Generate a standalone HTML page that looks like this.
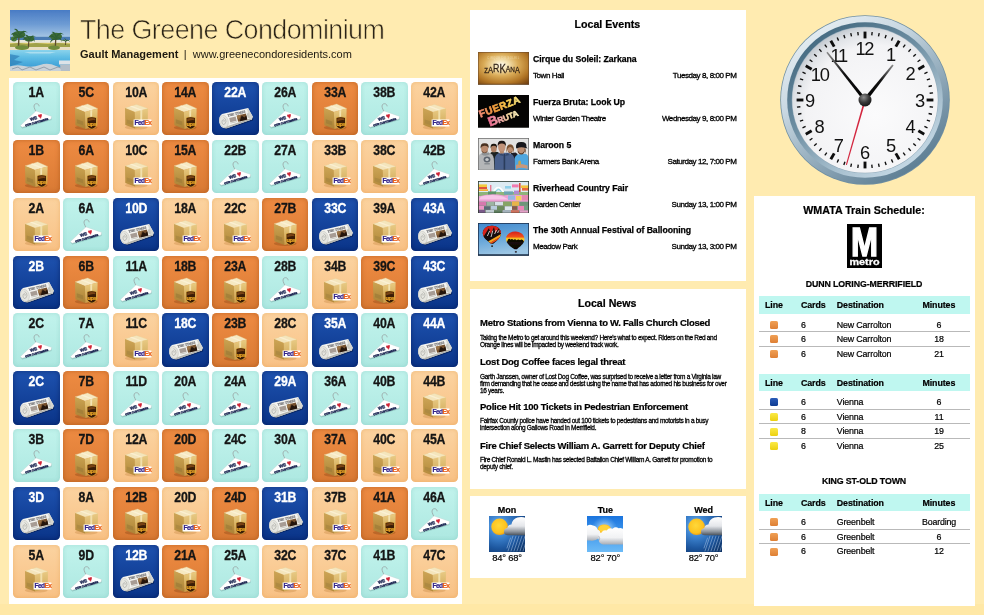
<!DOCTYPE html>
<html lang="en"><head><meta charset="utf-8"><title>The Greene Condominium</title>
<style>
html,body{margin:0;padding:0}
body{width:984px;height:615px;overflow:hidden;position:relative;background:#FFEBB0;font-family:"Liberation Sans",Arial,Helvetica,sans-serif;color:#111}
#root{position:absolute;left:0;top:0;width:984px;height:615px;will-change:transform}
.abs{position:absolute}
.footer{position:absolute;left:0;top:604px;width:984px;height:11px;background:#FFE8A6}
.photo{position:absolute;left:10px;top:10px;width:60px;height:60.7px;overflow:hidden}.photo svg{display:block}
h1{position:absolute;left:79.6px;top:14.3px;margin:0;font-weight:normal;font-size:28.4px;line-height:31px;letter-spacing:-0.6px;color:#2b2316;white-space:nowrap;transform:scaleX(0.947);transform-origin:0 0;-webkit-text-stroke:0.7px #FFEBB0}
.sub{position:absolute;left:80px;top:47.5px;font-size:11px;line-height:13px;white-space:nowrap;color:#1c1810}
.sub b{margin-right:2.3px}.sub i{font-style:normal;margin-right:3.2px}
.gridpanel{position:absolute;left:9px;top:78px;width:453px;height:526px;background:#fff}
.tile{position:absolute;width:46.5px;height:53.3px;border-radius:4.5px;text-align:center;overflow:hidden}
.tile span{position:absolute;left:0;right:0;top:3px;font-weight:bold;font-size:13.8px;line-height:15px;color:#151515;letter-spacing:-0.2px;transform:scaleX(0.89);-webkit-text-stroke:0.3px #151515}
.tile svg{position:absolute;left:0;top:0;width:46.3px;height:53px}
.t{background:linear-gradient(#C1F3EC,#ADE8E1);box-shadow:inset 0 0 4px rgba(60,150,140,.22)}
.o{background:linear-gradient(#EE8B42,#D97A34);box-shadow:inset 0 0 5px rgba(140,60,0,.45)}
.l{background:linear-gradient(#FBD3A0,#F8C185);box-shadow:inset 0 0 4px rgba(220,140,50,.35)}
.b{background:linear-gradient(#1E52AF,#0A3488);box-shadow:inset 0 0 5px rgba(0,15,70,.5)}
.b span{color:#fff;-webkit-text-stroke-color:#fff}
.panel{position:absolute;background:#fff}
.ptitle{position:absolute;left:0;right:0;text-align:center;font-weight:bold;font-size:10.65px;line-height:12px;color:#000;-webkit-text-stroke:0.22px #000}
.ev{position:absolute;left:7.5px;width:259px;height:33px}
.ev .th{position:absolute;left:0;top:0;width:51px;height:32.5px;overflow:hidden;background:#888}
.ev .th svg{display:block;width:51px;height:32.5px}
.ev b{position:absolute;left:55.5px;top:2px;font-size:8.7px;line-height:11px;white-space:nowrap;letter-spacing:-0.05px;-webkit-text-stroke:0.25px #000;color:#000}
.ev .pl{position:absolute;left:55.5px;top:18.9px;font-size:8px;line-height:10px;white-space:nowrap;letter-spacing:-0.42px;-webkit-text-stroke:0.3px #000;color:#000}
.ev .dt{position:absolute;right:0;top:18.9px;font-size:8px;line-height:10px;white-space:nowrap;letter-spacing:-0.42px;-webkit-text-stroke:0.3px #000;color:#000}
.nw h3{position:absolute;left:10px;margin:0;font-size:9.5px;line-height:11px;font-weight:bold;white-space:nowrap;letter-spacing:-0.25px;-webkit-text-stroke:0.2px #000;color:#000}
.nw p{position:absolute;left:10px;margin:0;font-size:6.5px;line-height:7px;white-space:nowrap;letter-spacing:-0.31px;-webkit-text-stroke:0.28px #000;color:#000}
.wx{position:absolute;width:60px;text-align:center}
.wx b{position:absolute;left:0;right:0;top:0;font-size:9px;line-height:10px;color:#000;-webkit-text-stroke:0.2px #000}
.wx svg{position:absolute;left:12px;top:10.5px;width:36px;height:36px}
.wx span{position:absolute;left:0;right:0;top:47.8px;font-size:9.4px;line-height:10px;letter-spacing:-0.2px;-webkit-text-stroke:0.2px #000;color:#000}
.tr .st{position:absolute;left:0;right:0;text-align:center;font-weight:bold;font-size:8.8px;line-height:10px;letter-spacing:-0.1px;color:#000;-webkit-text-stroke:0.2px #000}
.tr .hd{position:absolute;left:5px;width:211px;height:17.5px;background:#BFF7F0}
.tr .hd b,.tr .rw span{position:absolute;font-size:8.85px;line-height:10px;white-space:nowrap}
.tr .hd b{top:4px;letter-spacing:-0.1px;color:#000;-webkit-text-stroke:0.2px #000}
.tr .rw{position:absolute;left:5px;width:211px;height:14.5px}
.tr .rw.ln{border-bottom:1px solid #b9b9b9;height:13.6px}
.tr .rw span{top:2.2px;letter-spacing:-0.15px;-webkit-text-stroke:0.2px #000;color:#000}
.tr .c1{left:6.5px}.tr .c2{left:42.5px}.tr .c3{left:78.3px}.tr .c4{left:148px;width:65px;text-align:center}
.tr .hd .c4{left:164px;width:auto;text-align:left}
.tr .rw i{position:absolute;left:11px;top:3.4px;width:8.5px;height:8px;border-radius:1.6px}
.sq-o{background:linear-gradient(#F0A055,#DE8035)}
.sq-b{background:linear-gradient(#2A5CB8,#0F3C92)}
.sq-y{background:linear-gradient(#FBEA45,#ECD010)}
.metro{position:absolute;left:93.5px;top:28px;width:35px;height:44px;background:#000}

</style></head>
<body>
<div id="root">
<svg id="icondefs" width="0" height="0" style="position:absolute"><defs><linearGradient id="uL" x1="0" y1="0" x2="0" y2="1"><stop offset="0" stop-color="#CBA452"/><stop offset="1" stop-color="#AC8236"/></linearGradient><linearGradient id="uR" x1="0" y1="0" x2="0" y2="1"><stop offset="0" stop-color="#EACC82"/><stop offset="1" stop-color="#C89E4A"/></linearGradient><linearGradient id="fL" x1="0" y1="0" x2="0" y2="1"><stop offset="0" stop-color="#CDA556"/><stop offset="1" stop-color="#B48A3C"/></linearGradient><linearGradient id="fR" x1="0" y1="0" x2="0" y2="1"><stop offset="0" stop-color="#E8CA84"/><stop offset="1" stop-color="#CFA655"/></linearGradient></defs></svg>
<div class="footer"></div>
<div class="photo"><svg width="60" height="61" viewBox="0 0 60 61"><defs><linearGradient id="pSky" x1="0" y1="0" x2="0" y2="1"><stop offset="0" stop-color="#4477C2"/><stop offset="0.55" stop-color="#6E9CD4"/><stop offset="1" stop-color="#A9C8E4"/></linearGradient><linearGradient id="pPool" x1="0" y1="0" x2="0" y2="1"><stop offset="0" stop-color="#8AD3EC"/><stop offset="0.45" stop-color="#5DBCE4"/><stop offset="1" stop-color="#3F9FD6"/></linearGradient><filter id="pB" x="-5%" y="-5%" width="110%" height="110%"><feGaussianBlur stdDeviation="0.45"/></filter></defs><rect width="60" height="61" fill="#5FA8D8"/><g filter="url(#pB)"><rect x="-2" y="-2" width="64" height="30" fill="url(#pSky)"/><rect x="-2" y="26.8" width="64" height="3.4" fill="#4C7CB4"/><rect x="-2" y="30" width="64" height="3.2" fill="#E9E7DC"/><rect x="-2" y="32.8" width="64" height="4.2" fill="#DCCB6E"/><path d="M0 34L8 33L16 34L26 33L38 34L48 33L60 34V38H0Z" fill="#9FA04A"/><rect x="-2" y="37" width="64" height="3.6" fill="#E9DEC2"/><path d="M-2 40H62V57H-2Z" fill="url(#pPool)"/><path d="M-1 44L10 46L4 50L13 52L2 56L-1 56Z" fill="#2E7FB8" opacity="0.7"/><path d="M14 42H46L40 43.5H20Z" fill="#BFE6F2" opacity="0.7"/><path d="M-2 57Q6 54 14 56T30 55T46 56T62 54V63H-2Z" fill="#C9D1D8"/><path d="M2 59L8 57L12 60L20 57L26 60L34 57L40 60L48 57L56 60" fill="none" stroke="#8E9AA6" stroke-width="0.9"/><rect x="49" y="50.5" width="12" height="4" fill="#DDE3E8"/><path d="M50 54.5H61V61H51Z" fill="#B4BEC8"/><g fill="#2F5F34"><ellipse cx="9" cy="24.6" rx="6.4" ry="3.6" fill="#3B6B36"/><ellipse cx="19.4" cy="28.8" rx="5" ry="2.8" fill="#3B6B36"/><ellipse cx="46" cy="26.4" rx="6" ry="3.6" fill="#3B6B36"/><ellipse cx="4" cy="29" rx="3" ry="2.4" fill="#47763A"/><path d="M7.6 38L8.4 26L9.6 26L9.2 38Z" fill="#5B4A2E"/><path d="M9 26Q3 20 1 25Q5 23 8.6 27Q4 26 2 31Q6 27 9 28Q12 24 16 30Q14 24 10 25.6Q14 20 18 23Q13 18 9.4 24Q8 18 4 19Q8 21 9 26Z"/><path d="M17.6 38L18.4 30L19.4 30L19 38Z" fill="#5B4A2E"/><path d="M19 30Q14 26 12.6 30Q16 28 18.8 31Q22 27 25 32Q24 27 20 29.4Q23 25 26 27Q22 23.4 19.4 28Q18 24 15 25Q18 26.6 19 30Z"/><path d="M44.6 38L45.2 28L46.4 28L46 38Z" fill="#5B4A2E"/><path d="M45.6 28Q40 22 38.4 28Q42 25 45.2 29Q41 28 40 33Q43 29 45.8 30Q49 26 52 32Q51 26 47 27.6Q50 22 54 25Q49.6 20 46.2 26Q45 21 41.6 22Q45 23.6 45.6 28Z"/><path d="M55 35L55.4 31L56.2 31L56 35Z" fill="#5B4A2E"/><path d="M55.8 31Q53 28.6 52 31Q54 30 55.6 32Q58 29.6 60 32Q59 29 56.4 30Q56 28 54 28.6Q55.6 29.4 55.8 31Z"/><ellipse cx="12" cy="37.6" rx="7" ry="2.4" fill="#6F8B3A"/><ellipse cx="44" cy="37.8" rx="6" ry="2.2" fill="#6F8B3A"/></g></g></svg></div>
<h1>The Greene Condominium</h1>
<div class="sub"><b>Gault Management</b> <i>|</i> www.greenecondoresidents.com</div>
<div class="gridpanel">
<div class="tile t" style="left:4.00px;top:3.90px"><span>1A</span><svg viewBox="0 0 46.3 53"><path d="M22.7 29.1C21.7 26.8 20.2 24.4 21.5 22.6C22.9 21.1 25.9 21.4 26.1 23.9" fill="none" stroke="#98A2A2" stroke-width="0.8" stroke-linecap="round"/><g transform="translate(0 -0.6)"><path d="M23 30.5L39 36L38.4 38.7L9.3 47L7.6 45Z" fill="#6FAAA4" opacity="0.5"/><path d="M23 29.5L38.6 35L38.1 37.6L9 45.9L7.5 44.1Z" fill="#fff" stroke="#C4D2D2" stroke-width="0.35"/><g transform="rotate(-16 23 38)" font-family="Liberation Sans, Arial, sans-serif" font-weight="bold" fill="#16224F" stroke="#16224F"><text x="17.4" y="38" font-size="4.4" stroke-width="0.3" letter-spacing="-0.2">WE</text><text x="25.8" y="38.5" font-size="7.4" fill="#CF2436" stroke="#CF2436" stroke-width="0.3">♥</text><text x="11" y="41.9" font-size="2.7" stroke-width="0.35" textLength="24" lengthAdjust="spacingAndGlyphs">OUR CUSTOMERS</text></g></g></svg>
</div>
<div class="tile o" style="left:53.75px;top:3.90px"><span>5C</span><svg viewBox="0 0 46.3 53"><ellipse cx="23.2" cy="45.6" rx="11.4" ry="2.4" fill="#6A3208" opacity="0.28"/><path d="M12 25.9L24.6 22L34.6 26.4L21.9 29.9Z" fill="#F6E9C2" stroke="#E8D6A0" stroke-width="0.3"/><path d="M12 25.9L21.9 29.9L22.4 47L12.4 43.2Z" fill="url(#uL)"/><path d="M21.9 29.9L34.6 26.4L34.3 43.6L22.4 47Z" fill="url(#uR)"/><path d="M27.3 28.4L29.2 27.9L29.1 35L27.3 35.4Z" fill="#F3E3B2"/><path d="M17.4 23.9L19.4 23.4L29.6 27.6L27.4 28.3Z" fill="#FBF3DA" opacity="0.8"/><path d="M13.8 37.3L20.2 39.6L20.3 43.6L13.9 41.3Z" fill="#9F7C38" opacity="0.75"/><path d="M24 35.4Q28.8 33.9 33.6 35.4L33.6 43.5Q33.3 45.9 28.8 47.5Q24.3 45.9 24 43.5Z" fill="#D9A23A"/><path d="M24.6 36Q28.8 34.7 33 36L33 43.4Q32.7 45.4 28.8 46.8Q24.9 45.4 24.6 43.4Z" fill="#3A1C06"/><path d="M25.2 36.5Q28.8 35.5 32.4 36.5L32.4 38.2Q28.6 37.4 25.2 39.6Z" fill="#7A4414"/><text x="28.8" y="43.6" text-anchor="middle" font-family="Liberation Sans, Arial, sans-serif" font-weight="bold" font-size="5.6" fill="#F0AA28" stroke="#F0AA28" stroke-width="0.25" letter-spacing="-0.45">ups</text></svg>
</div>
<div class="tile l" style="left:103.50px;top:3.90px"><span>10A</span><svg viewBox="0 0 46.3 53"><ellipse cx="23.2" cy="45.4" rx="11.4" ry="2.2" fill="#B06A20" opacity="0.25"/><path d="M12 25.9L23.5 22.4L35 26.6L21.9 29.9Z" fill="#F4E5BC" stroke="#E6D29A" stroke-width="0.3"/><path d="M12 25.9L21.9 29.9L22 46.6L12.3 43.1Z" fill="url(#fL)"/><path d="M21.9 29.9L35 26.6L34.7 43.2L22 46.6Z" fill="url(#fR)"/><path d="M27.3 28.5L29.3 28L29.2 38L27.3 38Z" fill="#F1DFAC"/><path d="M16.8 24.4L18.8 23.8L29.8 27.9L27.6 28.5Z" fill="#FBF1D6" opacity="0.8"/><path d="M13.8 37.5L20.2 39.6L20.3 43.4L13.9 41.2Z" fill="#A88640" opacity="0.7"/><rect x="20.6" y="37.5" width="17.8" height="7" fill="#fff"/><text x="21.6" y="43.4" font-family="Liberation Sans, Arial, sans-serif" font-weight="bold" font-size="6.6" letter-spacing="-0.6" fill="#33248A" stroke="#33248A" stroke-width="0.25">Fed<tspan fill="#EA621A" stroke="#EA621A">Ex</tspan></text></svg>
</div>
<div class="tile o" style="left:153.25px;top:3.90px"><span>14A</span><svg viewBox="0 0 46.3 53"><ellipse cx="23.2" cy="45.6" rx="11.4" ry="2.4" fill="#6A3208" opacity="0.28"/><path d="M12 25.9L24.6 22L34.6 26.4L21.9 29.9Z" fill="#F6E9C2" stroke="#E8D6A0" stroke-width="0.3"/><path d="M12 25.9L21.9 29.9L22.4 47L12.4 43.2Z" fill="url(#uL)"/><path d="M21.9 29.9L34.6 26.4L34.3 43.6L22.4 47Z" fill="url(#uR)"/><path d="M27.3 28.4L29.2 27.9L29.1 35L27.3 35.4Z" fill="#F3E3B2"/><path d="M17.4 23.9L19.4 23.4L29.6 27.6L27.4 28.3Z" fill="#FBF3DA" opacity="0.8"/><path d="M13.8 37.3L20.2 39.6L20.3 43.6L13.9 41.3Z" fill="#9F7C38" opacity="0.75"/><path d="M24 35.4Q28.8 33.9 33.6 35.4L33.6 43.5Q33.3 45.9 28.8 47.5Q24.3 45.9 24 43.5Z" fill="#D9A23A"/><path d="M24.6 36Q28.8 34.7 33 36L33 43.4Q32.7 45.4 28.8 46.8Q24.9 45.4 24.6 43.4Z" fill="#3A1C06"/><path d="M25.2 36.5Q28.8 35.5 32.4 36.5L32.4 38.2Q28.6 37.4 25.2 39.6Z" fill="#7A4414"/><text x="28.8" y="43.6" text-anchor="middle" font-family="Liberation Sans, Arial, sans-serif" font-weight="bold" font-size="5.6" fill="#F0AA28" stroke="#F0AA28" stroke-width="0.25" letter-spacing="-0.45">ups</text></svg>
</div>
<div class="tile b" style="left:203.00px;top:3.90px"><span>22A</span><svg viewBox="0 0 46.3 53"><path d="M14 47.6L41 38.6L41.4 36L12 46Z" fill="#031238" opacity="0.5"/><path d="M10 32L36 25.9L40.7 34.5L39.8 37.6L15 46.2Q9 47.2 7.3 40.4Q6.4 34.4 10 32Z" fill="#F4F4F0"/><path d="M15 46.2L39.8 37.6L40.7 34.5L40 34.2L38.6 36.2L15.2 44.2Q11.5 45 9.6 42.6Q11 46.9 15 46.2Z" fill="#B5B5AE"/><path d="M36 25.9L40.7 34.5L39.8 37.6L37 36.6L35.2 27.2Z" fill="#D6D6D0"/><ellipse cx="11.9" cy="39.4" rx="4.3" ry="6.2" transform="rotate(-14 11.9 39.4)" fill="#E6E6E0" stroke="#C4C4BC" stroke-width="0.5"/><path d="M11.6 35.6Q14.3 36.6 14 39.6Q13.4 42.6 11.2 42.6Q9.6 41.4 10 39Q10.6 37.4 11.8 37.8Q12.6 38.6 12 39.8" fill="none" stroke="#9E9E98" stroke-width="0.55"/><g transform="rotate(-13.5 24 36)"><text x="16.2" y="32.9" font-family="Liberation Serif, Times, serif" font-weight="bold" font-size="3.6" fill="#6C6C70" stroke="#6C6C70" stroke-width="0.15" textLength="18.5" lengthAdjust="spacingAndGlyphs">THE TIMES</text><rect x="17.4" y="34.4" width="6.6" height="4.4" fill="#A79C94"/><rect x="17.4" y="39.4" width="6.6" height="0.7" fill="#BDBDB6"/><rect x="25.2" y="33.9" width="9.4" height="6.3" fill="#75502E"/><path d="M26.6 40.2L30 35.2L32.4 37.6L34.6 35.8V40.2Z" fill="#24150C"/><path d="M25.2 33.9H30L27 37.5L25.2 37Z" fill="#9A7448"/><rect x="35.4" y="34.2" width="2.4" height="4.6" fill="#C6C6BF"/></g></svg>
</div>
<div class="tile t" style="left:252.75px;top:3.90px"><span>26A</span><svg viewBox="0 0 46.3 53"><path d="M22.7 29.1C21.7 26.8 20.2 24.4 21.5 22.6C22.9 21.1 25.9 21.4 26.1 23.9" fill="none" stroke="#98A2A2" stroke-width="0.8" stroke-linecap="round"/><g transform="translate(0 -0.6)"><path d="M23 30.5L39 36L38.4 38.7L9.3 47L7.6 45Z" fill="#6FAAA4" opacity="0.5"/><path d="M23 29.5L38.6 35L38.1 37.6L9 45.9L7.5 44.1Z" fill="#fff" stroke="#C4D2D2" stroke-width="0.35"/><g transform="rotate(-16 23 38)" font-family="Liberation Sans, Arial, sans-serif" font-weight="bold" fill="#16224F" stroke="#16224F"><text x="17.4" y="38" font-size="4.4" stroke-width="0.3" letter-spacing="-0.2">WE</text><text x="25.8" y="38.5" font-size="7.4" fill="#CF2436" stroke="#CF2436" stroke-width="0.3">♥</text><text x="11" y="41.9" font-size="2.7" stroke-width="0.35" textLength="24" lengthAdjust="spacingAndGlyphs">OUR CUSTOMERS</text></g></g></svg>
</div>
<div class="tile o" style="left:302.50px;top:3.90px"><span>33A</span><svg viewBox="0 0 46.3 53"><ellipse cx="23.2" cy="45.6" rx="11.4" ry="2.4" fill="#6A3208" opacity="0.28"/><path d="M12 25.9L24.6 22L34.6 26.4L21.9 29.9Z" fill="#F6E9C2" stroke="#E8D6A0" stroke-width="0.3"/><path d="M12 25.9L21.9 29.9L22.4 47L12.4 43.2Z" fill="url(#uL)"/><path d="M21.9 29.9L34.6 26.4L34.3 43.6L22.4 47Z" fill="url(#uR)"/><path d="M27.3 28.4L29.2 27.9L29.1 35L27.3 35.4Z" fill="#F3E3B2"/><path d="M17.4 23.9L19.4 23.4L29.6 27.6L27.4 28.3Z" fill="#FBF3DA" opacity="0.8"/><path d="M13.8 37.3L20.2 39.6L20.3 43.6L13.9 41.3Z" fill="#9F7C38" opacity="0.75"/><path d="M24 35.4Q28.8 33.9 33.6 35.4L33.6 43.5Q33.3 45.9 28.8 47.5Q24.3 45.9 24 43.5Z" fill="#D9A23A"/><path d="M24.6 36Q28.8 34.7 33 36L33 43.4Q32.7 45.4 28.8 46.8Q24.9 45.4 24.6 43.4Z" fill="#3A1C06"/><path d="M25.2 36.5Q28.8 35.5 32.4 36.5L32.4 38.2Q28.6 37.4 25.2 39.6Z" fill="#7A4414"/><text x="28.8" y="43.6" text-anchor="middle" font-family="Liberation Sans, Arial, sans-serif" font-weight="bold" font-size="5.6" fill="#F0AA28" stroke="#F0AA28" stroke-width="0.25" letter-spacing="-0.45">ups</text></svg>
</div>
<div class="tile t" style="left:352.25px;top:3.90px"><span>38B</span><svg viewBox="0 0 46.3 53"><path d="M22.7 29.1C21.7 26.8 20.2 24.4 21.5 22.6C22.9 21.1 25.9 21.4 26.1 23.9" fill="none" stroke="#98A2A2" stroke-width="0.8" stroke-linecap="round"/><g transform="translate(0 -0.6)"><path d="M23 30.5L39 36L38.4 38.7L9.3 47L7.6 45Z" fill="#6FAAA4" opacity="0.5"/><path d="M23 29.5L38.6 35L38.1 37.6L9 45.9L7.5 44.1Z" fill="#fff" stroke="#C4D2D2" stroke-width="0.35"/><g transform="rotate(-16 23 38)" font-family="Liberation Sans, Arial, sans-serif" font-weight="bold" fill="#16224F" stroke="#16224F"><text x="17.4" y="38" font-size="4.4" stroke-width="0.3" letter-spacing="-0.2">WE</text><text x="25.8" y="38.5" font-size="7.4" fill="#CF2436" stroke="#CF2436" stroke-width="0.3">♥</text><text x="11" y="41.9" font-size="2.7" stroke-width="0.35" textLength="24" lengthAdjust="spacingAndGlyphs">OUR CUSTOMERS</text></g></g></svg>
</div>
<div class="tile l" style="left:402.00px;top:3.90px"><span>42A</span><svg viewBox="0 0 46.3 53"><ellipse cx="23.2" cy="45.4" rx="11.4" ry="2.2" fill="#B06A20" opacity="0.25"/><path d="M12 25.9L23.5 22.4L35 26.6L21.9 29.9Z" fill="#F4E5BC" stroke="#E6D29A" stroke-width="0.3"/><path d="M12 25.9L21.9 29.9L22 46.6L12.3 43.1Z" fill="url(#fL)"/><path d="M21.9 29.9L35 26.6L34.7 43.2L22 46.6Z" fill="url(#fR)"/><path d="M27.3 28.5L29.3 28L29.2 38L27.3 38Z" fill="#F1DFAC"/><path d="M16.8 24.4L18.8 23.8L29.8 27.9L27.6 28.5Z" fill="#FBF1D6" opacity="0.8"/><path d="M13.8 37.5L20.2 39.6L20.3 43.4L13.9 41.2Z" fill="#A88640" opacity="0.7"/><rect x="20.6" y="37.5" width="17.8" height="7" fill="#fff"/><text x="21.6" y="43.4" font-family="Liberation Sans, Arial, sans-serif" font-weight="bold" font-size="6.6" letter-spacing="-0.6" fill="#33248A" stroke="#33248A" stroke-width="0.25">Fed<tspan fill="#EA621A" stroke="#EA621A">Ex</tspan></text></svg>
</div>
<div class="tile o" style="left:4.00px;top:61.77px"><span>1B</span><svg viewBox="0 0 46.3 53"><ellipse cx="23.2" cy="45.6" rx="11.4" ry="2.4" fill="#6A3208" opacity="0.28"/><path d="M12 25.9L24.6 22L34.6 26.4L21.9 29.9Z" fill="#F6E9C2" stroke="#E8D6A0" stroke-width="0.3"/><path d="M12 25.9L21.9 29.9L22.4 47L12.4 43.2Z" fill="url(#uL)"/><path d="M21.9 29.9L34.6 26.4L34.3 43.6L22.4 47Z" fill="url(#uR)"/><path d="M27.3 28.4L29.2 27.9L29.1 35L27.3 35.4Z" fill="#F3E3B2"/><path d="M17.4 23.9L19.4 23.4L29.6 27.6L27.4 28.3Z" fill="#FBF3DA" opacity="0.8"/><path d="M13.8 37.3L20.2 39.6L20.3 43.6L13.9 41.3Z" fill="#9F7C38" opacity="0.75"/><path d="M24 35.4Q28.8 33.9 33.6 35.4L33.6 43.5Q33.3 45.9 28.8 47.5Q24.3 45.9 24 43.5Z" fill="#D9A23A"/><path d="M24.6 36Q28.8 34.7 33 36L33 43.4Q32.7 45.4 28.8 46.8Q24.9 45.4 24.6 43.4Z" fill="#3A1C06"/><path d="M25.2 36.5Q28.8 35.5 32.4 36.5L32.4 38.2Q28.6 37.4 25.2 39.6Z" fill="#7A4414"/><text x="28.8" y="43.6" text-anchor="middle" font-family="Liberation Sans, Arial, sans-serif" font-weight="bold" font-size="5.6" fill="#F0AA28" stroke="#F0AA28" stroke-width="0.25" letter-spacing="-0.45">ups</text></svg>
</div>
<div class="tile o" style="left:53.75px;top:61.77px"><span>6A</span><svg viewBox="0 0 46.3 53"><ellipse cx="23.2" cy="45.6" rx="11.4" ry="2.4" fill="#6A3208" opacity="0.28"/><path d="M12 25.9L24.6 22L34.6 26.4L21.9 29.9Z" fill="#F6E9C2" stroke="#E8D6A0" stroke-width="0.3"/><path d="M12 25.9L21.9 29.9L22.4 47L12.4 43.2Z" fill="url(#uL)"/><path d="M21.9 29.9L34.6 26.4L34.3 43.6L22.4 47Z" fill="url(#uR)"/><path d="M27.3 28.4L29.2 27.9L29.1 35L27.3 35.4Z" fill="#F3E3B2"/><path d="M17.4 23.9L19.4 23.4L29.6 27.6L27.4 28.3Z" fill="#FBF3DA" opacity="0.8"/><path d="M13.8 37.3L20.2 39.6L20.3 43.6L13.9 41.3Z" fill="#9F7C38" opacity="0.75"/><path d="M24 35.4Q28.8 33.9 33.6 35.4L33.6 43.5Q33.3 45.9 28.8 47.5Q24.3 45.9 24 43.5Z" fill="#D9A23A"/><path d="M24.6 36Q28.8 34.7 33 36L33 43.4Q32.7 45.4 28.8 46.8Q24.9 45.4 24.6 43.4Z" fill="#3A1C06"/><path d="M25.2 36.5Q28.8 35.5 32.4 36.5L32.4 38.2Q28.6 37.4 25.2 39.6Z" fill="#7A4414"/><text x="28.8" y="43.6" text-anchor="middle" font-family="Liberation Sans, Arial, sans-serif" font-weight="bold" font-size="5.6" fill="#F0AA28" stroke="#F0AA28" stroke-width="0.25" letter-spacing="-0.45">ups</text></svg>
</div>
<div class="tile l" style="left:103.50px;top:61.77px"><span>10C</span><svg viewBox="0 0 46.3 53"><ellipse cx="23.2" cy="45.4" rx="11.4" ry="2.2" fill="#B06A20" opacity="0.25"/><path d="M12 25.9L23.5 22.4L35 26.6L21.9 29.9Z" fill="#F4E5BC" stroke="#E6D29A" stroke-width="0.3"/><path d="M12 25.9L21.9 29.9L22 46.6L12.3 43.1Z" fill="url(#fL)"/><path d="M21.9 29.9L35 26.6L34.7 43.2L22 46.6Z" fill="url(#fR)"/><path d="M27.3 28.5L29.3 28L29.2 38L27.3 38Z" fill="#F1DFAC"/><path d="M16.8 24.4L18.8 23.8L29.8 27.9L27.6 28.5Z" fill="#FBF1D6" opacity="0.8"/><path d="M13.8 37.5L20.2 39.6L20.3 43.4L13.9 41.2Z" fill="#A88640" opacity="0.7"/><rect x="20.6" y="37.5" width="17.8" height="7" fill="#fff"/><text x="21.6" y="43.4" font-family="Liberation Sans, Arial, sans-serif" font-weight="bold" font-size="6.6" letter-spacing="-0.6" fill="#33248A" stroke="#33248A" stroke-width="0.25">Fed<tspan fill="#EA621A" stroke="#EA621A">Ex</tspan></text></svg>
</div>
<div class="tile o" style="left:153.25px;top:61.77px"><span>15A</span><svg viewBox="0 0 46.3 53"><ellipse cx="23.2" cy="45.6" rx="11.4" ry="2.4" fill="#6A3208" opacity="0.28"/><path d="M12 25.9L24.6 22L34.6 26.4L21.9 29.9Z" fill="#F6E9C2" stroke="#E8D6A0" stroke-width="0.3"/><path d="M12 25.9L21.9 29.9L22.4 47L12.4 43.2Z" fill="url(#uL)"/><path d="M21.9 29.9L34.6 26.4L34.3 43.6L22.4 47Z" fill="url(#uR)"/><path d="M27.3 28.4L29.2 27.9L29.1 35L27.3 35.4Z" fill="#F3E3B2"/><path d="M17.4 23.9L19.4 23.4L29.6 27.6L27.4 28.3Z" fill="#FBF3DA" opacity="0.8"/><path d="M13.8 37.3L20.2 39.6L20.3 43.6L13.9 41.3Z" fill="#9F7C38" opacity="0.75"/><path d="M24 35.4Q28.8 33.9 33.6 35.4L33.6 43.5Q33.3 45.9 28.8 47.5Q24.3 45.9 24 43.5Z" fill="#D9A23A"/><path d="M24.6 36Q28.8 34.7 33 36L33 43.4Q32.7 45.4 28.8 46.8Q24.9 45.4 24.6 43.4Z" fill="#3A1C06"/><path d="M25.2 36.5Q28.8 35.5 32.4 36.5L32.4 38.2Q28.6 37.4 25.2 39.6Z" fill="#7A4414"/><text x="28.8" y="43.6" text-anchor="middle" font-family="Liberation Sans, Arial, sans-serif" font-weight="bold" font-size="5.6" fill="#F0AA28" stroke="#F0AA28" stroke-width="0.25" letter-spacing="-0.45">ups</text></svg>
</div>
<div class="tile t" style="left:203.00px;top:61.77px"><span>22B</span><svg viewBox="0 0 46.3 53"><path d="M22.7 29.1C21.7 26.8 20.2 24.4 21.5 22.6C22.9 21.1 25.9 21.4 26.1 23.9" fill="none" stroke="#98A2A2" stroke-width="0.8" stroke-linecap="round"/><g transform="translate(0 -0.6)"><path d="M23 30.5L39 36L38.4 38.7L9.3 47L7.6 45Z" fill="#6FAAA4" opacity="0.5"/><path d="M23 29.5L38.6 35L38.1 37.6L9 45.9L7.5 44.1Z" fill="#fff" stroke="#C4D2D2" stroke-width="0.35"/><g transform="rotate(-16 23 38)" font-family="Liberation Sans, Arial, sans-serif" font-weight="bold" fill="#16224F" stroke="#16224F"><text x="17.4" y="38" font-size="4.4" stroke-width="0.3" letter-spacing="-0.2">WE</text><text x="25.8" y="38.5" font-size="7.4" fill="#CF2436" stroke="#CF2436" stroke-width="0.3">♥</text><text x="11" y="41.9" font-size="2.7" stroke-width="0.35" textLength="24" lengthAdjust="spacingAndGlyphs">OUR CUSTOMERS</text></g></g></svg>
</div>
<div class="tile t" style="left:252.75px;top:61.77px"><span>27A</span><svg viewBox="0 0 46.3 53"><path d="M22.7 29.1C21.7 26.8 20.2 24.4 21.5 22.6C22.9 21.1 25.9 21.4 26.1 23.9" fill="none" stroke="#98A2A2" stroke-width="0.8" stroke-linecap="round"/><g transform="translate(0 -0.6)"><path d="M23 30.5L39 36L38.4 38.7L9.3 47L7.6 45Z" fill="#6FAAA4" opacity="0.5"/><path d="M23 29.5L38.6 35L38.1 37.6L9 45.9L7.5 44.1Z" fill="#fff" stroke="#C4D2D2" stroke-width="0.35"/><g transform="rotate(-16 23 38)" font-family="Liberation Sans, Arial, sans-serif" font-weight="bold" fill="#16224F" stroke="#16224F"><text x="17.4" y="38" font-size="4.4" stroke-width="0.3" letter-spacing="-0.2">WE</text><text x="25.8" y="38.5" font-size="7.4" fill="#CF2436" stroke="#CF2436" stroke-width="0.3">♥</text><text x="11" y="41.9" font-size="2.7" stroke-width="0.35" textLength="24" lengthAdjust="spacingAndGlyphs">OUR CUSTOMERS</text></g></g></svg>
</div>
<div class="tile l" style="left:302.50px;top:61.77px"><span>33B</span><svg viewBox="0 0 46.3 53"><ellipse cx="23.2" cy="45.4" rx="11.4" ry="2.2" fill="#B06A20" opacity="0.25"/><path d="M12 25.9L23.5 22.4L35 26.6L21.9 29.9Z" fill="#F4E5BC" stroke="#E6D29A" stroke-width="0.3"/><path d="M12 25.9L21.9 29.9L22 46.6L12.3 43.1Z" fill="url(#fL)"/><path d="M21.9 29.9L35 26.6L34.7 43.2L22 46.6Z" fill="url(#fR)"/><path d="M27.3 28.5L29.3 28L29.2 38L27.3 38Z" fill="#F1DFAC"/><path d="M16.8 24.4L18.8 23.8L29.8 27.9L27.6 28.5Z" fill="#FBF1D6" opacity="0.8"/><path d="M13.8 37.5L20.2 39.6L20.3 43.4L13.9 41.2Z" fill="#A88640" opacity="0.7"/><rect x="20.6" y="37.5" width="17.8" height="7" fill="#fff"/><text x="21.6" y="43.4" font-family="Liberation Sans, Arial, sans-serif" font-weight="bold" font-size="6.6" letter-spacing="-0.6" fill="#33248A" stroke="#33248A" stroke-width="0.25">Fed<tspan fill="#EA621A" stroke="#EA621A">Ex</tspan></text></svg>
</div>
<div class="tile l" style="left:352.25px;top:61.77px"><span>38C</span><svg viewBox="0 0 46.3 53"><ellipse cx="23.2" cy="45.4" rx="11.4" ry="2.2" fill="#B06A20" opacity="0.25"/><path d="M12 25.9L23.5 22.4L35 26.6L21.9 29.9Z" fill="#F4E5BC" stroke="#E6D29A" stroke-width="0.3"/><path d="M12 25.9L21.9 29.9L22 46.6L12.3 43.1Z" fill="url(#fL)"/><path d="M21.9 29.9L35 26.6L34.7 43.2L22 46.6Z" fill="url(#fR)"/><path d="M27.3 28.5L29.3 28L29.2 38L27.3 38Z" fill="#F1DFAC"/><path d="M16.8 24.4L18.8 23.8L29.8 27.9L27.6 28.5Z" fill="#FBF1D6" opacity="0.8"/><path d="M13.8 37.5L20.2 39.6L20.3 43.4L13.9 41.2Z" fill="#A88640" opacity="0.7"/><rect x="20.6" y="37.5" width="17.8" height="7" fill="#fff"/><text x="21.6" y="43.4" font-family="Liberation Sans, Arial, sans-serif" font-weight="bold" font-size="6.6" letter-spacing="-0.6" fill="#33248A" stroke="#33248A" stroke-width="0.25">Fed<tspan fill="#EA621A" stroke="#EA621A">Ex</tspan></text></svg>
</div>
<div class="tile t" style="left:402.00px;top:61.77px"><span>42B</span><svg viewBox="0 0 46.3 53"><path d="M22.7 29.1C21.7 26.8 20.2 24.4 21.5 22.6C22.9 21.1 25.9 21.4 26.1 23.9" fill="none" stroke="#98A2A2" stroke-width="0.8" stroke-linecap="round"/><g transform="translate(0 -0.6)"><path d="M23 30.5L39 36L38.4 38.7L9.3 47L7.6 45Z" fill="#6FAAA4" opacity="0.5"/><path d="M23 29.5L38.6 35L38.1 37.6L9 45.9L7.5 44.1Z" fill="#fff" stroke="#C4D2D2" stroke-width="0.35"/><g transform="rotate(-16 23 38)" font-family="Liberation Sans, Arial, sans-serif" font-weight="bold" fill="#16224F" stroke="#16224F"><text x="17.4" y="38" font-size="4.4" stroke-width="0.3" letter-spacing="-0.2">WE</text><text x="25.8" y="38.5" font-size="7.4" fill="#CF2436" stroke="#CF2436" stroke-width="0.3">♥</text><text x="11" y="41.9" font-size="2.7" stroke-width="0.35" textLength="24" lengthAdjust="spacingAndGlyphs">OUR CUSTOMERS</text></g></g></svg>
</div>
<div class="tile l" style="left:4.00px;top:119.64px"><span>2A</span><svg viewBox="0 0 46.3 53"><ellipse cx="23.2" cy="45.4" rx="11.4" ry="2.2" fill="#B06A20" opacity="0.25"/><path d="M12 25.9L23.5 22.4L35 26.6L21.9 29.9Z" fill="#F4E5BC" stroke="#E6D29A" stroke-width="0.3"/><path d="M12 25.9L21.9 29.9L22 46.6L12.3 43.1Z" fill="url(#fL)"/><path d="M21.9 29.9L35 26.6L34.7 43.2L22 46.6Z" fill="url(#fR)"/><path d="M27.3 28.5L29.3 28L29.2 38L27.3 38Z" fill="#F1DFAC"/><path d="M16.8 24.4L18.8 23.8L29.8 27.9L27.6 28.5Z" fill="#FBF1D6" opacity="0.8"/><path d="M13.8 37.5L20.2 39.6L20.3 43.4L13.9 41.2Z" fill="#A88640" opacity="0.7"/><rect x="20.6" y="37.5" width="17.8" height="7" fill="#fff"/><text x="21.6" y="43.4" font-family="Liberation Sans, Arial, sans-serif" font-weight="bold" font-size="6.6" letter-spacing="-0.6" fill="#33248A" stroke="#33248A" stroke-width="0.25">Fed<tspan fill="#EA621A" stroke="#EA621A">Ex</tspan></text></svg>
</div>
<div class="tile t" style="left:53.75px;top:119.64px"><span>6A</span><svg viewBox="0 0 46.3 53"><path d="M22.7 29.1C21.7 26.8 20.2 24.4 21.5 22.6C22.9 21.1 25.9 21.4 26.1 23.9" fill="none" stroke="#98A2A2" stroke-width="0.8" stroke-linecap="round"/><g transform="translate(0 -0.6)"><path d="M23 30.5L39 36L38.4 38.7L9.3 47L7.6 45Z" fill="#6FAAA4" opacity="0.5"/><path d="M23 29.5L38.6 35L38.1 37.6L9 45.9L7.5 44.1Z" fill="#fff" stroke="#C4D2D2" stroke-width="0.35"/><g transform="rotate(-16 23 38)" font-family="Liberation Sans, Arial, sans-serif" font-weight="bold" fill="#16224F" stroke="#16224F"><text x="17.4" y="38" font-size="4.4" stroke-width="0.3" letter-spacing="-0.2">WE</text><text x="25.8" y="38.5" font-size="7.4" fill="#CF2436" stroke="#CF2436" stroke-width="0.3">♥</text><text x="11" y="41.9" font-size="2.7" stroke-width="0.35" textLength="24" lengthAdjust="spacingAndGlyphs">OUR CUSTOMERS</text></g></g></svg>
</div>
<div class="tile b" style="left:103.50px;top:119.64px"><span>10D</span><svg viewBox="0 0 46.3 53"><path d="M14 47.6L41 38.6L41.4 36L12 46Z" fill="#031238" opacity="0.5"/><path d="M10 32L36 25.9L40.7 34.5L39.8 37.6L15 46.2Q9 47.2 7.3 40.4Q6.4 34.4 10 32Z" fill="#F4F4F0"/><path d="M15 46.2L39.8 37.6L40.7 34.5L40 34.2L38.6 36.2L15.2 44.2Q11.5 45 9.6 42.6Q11 46.9 15 46.2Z" fill="#B5B5AE"/><path d="M36 25.9L40.7 34.5L39.8 37.6L37 36.6L35.2 27.2Z" fill="#D6D6D0"/><ellipse cx="11.9" cy="39.4" rx="4.3" ry="6.2" transform="rotate(-14 11.9 39.4)" fill="#E6E6E0" stroke="#C4C4BC" stroke-width="0.5"/><path d="M11.6 35.6Q14.3 36.6 14 39.6Q13.4 42.6 11.2 42.6Q9.6 41.4 10 39Q10.6 37.4 11.8 37.8Q12.6 38.6 12 39.8" fill="none" stroke="#9E9E98" stroke-width="0.55"/><g transform="rotate(-13.5 24 36)"><text x="16.2" y="32.9" font-family="Liberation Serif, Times, serif" font-weight="bold" font-size="3.6" fill="#6C6C70" stroke="#6C6C70" stroke-width="0.15" textLength="18.5" lengthAdjust="spacingAndGlyphs">THE TIMES</text><rect x="17.4" y="34.4" width="6.6" height="4.4" fill="#A79C94"/><rect x="17.4" y="39.4" width="6.6" height="0.7" fill="#BDBDB6"/><rect x="25.2" y="33.9" width="9.4" height="6.3" fill="#75502E"/><path d="M26.6 40.2L30 35.2L32.4 37.6L34.6 35.8V40.2Z" fill="#24150C"/><path d="M25.2 33.9H30L27 37.5L25.2 37Z" fill="#9A7448"/><rect x="35.4" y="34.2" width="2.4" height="4.6" fill="#C6C6BF"/></g></svg>
</div>
<div class="tile l" style="left:153.25px;top:119.64px"><span>18A</span><svg viewBox="0 0 46.3 53"><ellipse cx="23.2" cy="45.4" rx="11.4" ry="2.2" fill="#B06A20" opacity="0.25"/><path d="M12 25.9L23.5 22.4L35 26.6L21.9 29.9Z" fill="#F4E5BC" stroke="#E6D29A" stroke-width="0.3"/><path d="M12 25.9L21.9 29.9L22 46.6L12.3 43.1Z" fill="url(#fL)"/><path d="M21.9 29.9L35 26.6L34.7 43.2L22 46.6Z" fill="url(#fR)"/><path d="M27.3 28.5L29.3 28L29.2 38L27.3 38Z" fill="#F1DFAC"/><path d="M16.8 24.4L18.8 23.8L29.8 27.9L27.6 28.5Z" fill="#FBF1D6" opacity="0.8"/><path d="M13.8 37.5L20.2 39.6L20.3 43.4L13.9 41.2Z" fill="#A88640" opacity="0.7"/><rect x="20.6" y="37.5" width="17.8" height="7" fill="#fff"/><text x="21.6" y="43.4" font-family="Liberation Sans, Arial, sans-serif" font-weight="bold" font-size="6.6" letter-spacing="-0.6" fill="#33248A" stroke="#33248A" stroke-width="0.25">Fed<tspan fill="#EA621A" stroke="#EA621A">Ex</tspan></text></svg>
</div>
<div class="tile l" style="left:203.00px;top:119.64px"><span>22C</span><svg viewBox="0 0 46.3 53"><ellipse cx="23.2" cy="45.4" rx="11.4" ry="2.2" fill="#B06A20" opacity="0.25"/><path d="M12 25.9L23.5 22.4L35 26.6L21.9 29.9Z" fill="#F4E5BC" stroke="#E6D29A" stroke-width="0.3"/><path d="M12 25.9L21.9 29.9L22 46.6L12.3 43.1Z" fill="url(#fL)"/><path d="M21.9 29.9L35 26.6L34.7 43.2L22 46.6Z" fill="url(#fR)"/><path d="M27.3 28.5L29.3 28L29.2 38L27.3 38Z" fill="#F1DFAC"/><path d="M16.8 24.4L18.8 23.8L29.8 27.9L27.6 28.5Z" fill="#FBF1D6" opacity="0.8"/><path d="M13.8 37.5L20.2 39.6L20.3 43.4L13.9 41.2Z" fill="#A88640" opacity="0.7"/><rect x="20.6" y="37.5" width="17.8" height="7" fill="#fff"/><text x="21.6" y="43.4" font-family="Liberation Sans, Arial, sans-serif" font-weight="bold" font-size="6.6" letter-spacing="-0.6" fill="#33248A" stroke="#33248A" stroke-width="0.25">Fed<tspan fill="#EA621A" stroke="#EA621A">Ex</tspan></text></svg>
</div>
<div class="tile o" style="left:252.75px;top:119.64px"><span>27B</span><svg viewBox="0 0 46.3 53"><ellipse cx="23.2" cy="45.6" rx="11.4" ry="2.4" fill="#6A3208" opacity="0.28"/><path d="M12 25.9L24.6 22L34.6 26.4L21.9 29.9Z" fill="#F6E9C2" stroke="#E8D6A0" stroke-width="0.3"/><path d="M12 25.9L21.9 29.9L22.4 47L12.4 43.2Z" fill="url(#uL)"/><path d="M21.9 29.9L34.6 26.4L34.3 43.6L22.4 47Z" fill="url(#uR)"/><path d="M27.3 28.4L29.2 27.9L29.1 35L27.3 35.4Z" fill="#F3E3B2"/><path d="M17.4 23.9L19.4 23.4L29.6 27.6L27.4 28.3Z" fill="#FBF3DA" opacity="0.8"/><path d="M13.8 37.3L20.2 39.6L20.3 43.6L13.9 41.3Z" fill="#9F7C38" opacity="0.75"/><path d="M24 35.4Q28.8 33.9 33.6 35.4L33.6 43.5Q33.3 45.9 28.8 47.5Q24.3 45.9 24 43.5Z" fill="#D9A23A"/><path d="M24.6 36Q28.8 34.7 33 36L33 43.4Q32.7 45.4 28.8 46.8Q24.9 45.4 24.6 43.4Z" fill="#3A1C06"/><path d="M25.2 36.5Q28.8 35.5 32.4 36.5L32.4 38.2Q28.6 37.4 25.2 39.6Z" fill="#7A4414"/><text x="28.8" y="43.6" text-anchor="middle" font-family="Liberation Sans, Arial, sans-serif" font-weight="bold" font-size="5.6" fill="#F0AA28" stroke="#F0AA28" stroke-width="0.25" letter-spacing="-0.45">ups</text></svg>
</div>
<div class="tile b" style="left:302.50px;top:119.64px"><span>33C</span><svg viewBox="0 0 46.3 53"><path d="M14 47.6L41 38.6L41.4 36L12 46Z" fill="#031238" opacity="0.5"/><path d="M10 32L36 25.9L40.7 34.5L39.8 37.6L15 46.2Q9 47.2 7.3 40.4Q6.4 34.4 10 32Z" fill="#F4F4F0"/><path d="M15 46.2L39.8 37.6L40.7 34.5L40 34.2L38.6 36.2L15.2 44.2Q11.5 45 9.6 42.6Q11 46.9 15 46.2Z" fill="#B5B5AE"/><path d="M36 25.9L40.7 34.5L39.8 37.6L37 36.6L35.2 27.2Z" fill="#D6D6D0"/><ellipse cx="11.9" cy="39.4" rx="4.3" ry="6.2" transform="rotate(-14 11.9 39.4)" fill="#E6E6E0" stroke="#C4C4BC" stroke-width="0.5"/><path d="M11.6 35.6Q14.3 36.6 14 39.6Q13.4 42.6 11.2 42.6Q9.6 41.4 10 39Q10.6 37.4 11.8 37.8Q12.6 38.6 12 39.8" fill="none" stroke="#9E9E98" stroke-width="0.55"/><g transform="rotate(-13.5 24 36)"><text x="16.2" y="32.9" font-family="Liberation Serif, Times, serif" font-weight="bold" font-size="3.6" fill="#6C6C70" stroke="#6C6C70" stroke-width="0.15" textLength="18.5" lengthAdjust="spacingAndGlyphs">THE TIMES</text><rect x="17.4" y="34.4" width="6.6" height="4.4" fill="#A79C94"/><rect x="17.4" y="39.4" width="6.6" height="0.7" fill="#BDBDB6"/><rect x="25.2" y="33.9" width="9.4" height="6.3" fill="#75502E"/><path d="M26.6 40.2L30 35.2L32.4 37.6L34.6 35.8V40.2Z" fill="#24150C"/><path d="M25.2 33.9H30L27 37.5L25.2 37Z" fill="#9A7448"/><rect x="35.4" y="34.2" width="2.4" height="4.6" fill="#C6C6BF"/></g></svg>
</div>
<div class="tile l" style="left:352.25px;top:119.64px"><span>39A</span><svg viewBox="0 0 46.3 53"><ellipse cx="23.2" cy="45.4" rx="11.4" ry="2.2" fill="#B06A20" opacity="0.25"/><path d="M12 25.9L23.5 22.4L35 26.6L21.9 29.9Z" fill="#F4E5BC" stroke="#E6D29A" stroke-width="0.3"/><path d="M12 25.9L21.9 29.9L22 46.6L12.3 43.1Z" fill="url(#fL)"/><path d="M21.9 29.9L35 26.6L34.7 43.2L22 46.6Z" fill="url(#fR)"/><path d="M27.3 28.5L29.3 28L29.2 38L27.3 38Z" fill="#F1DFAC"/><path d="M16.8 24.4L18.8 23.8L29.8 27.9L27.6 28.5Z" fill="#FBF1D6" opacity="0.8"/><path d="M13.8 37.5L20.2 39.6L20.3 43.4L13.9 41.2Z" fill="#A88640" opacity="0.7"/><rect x="20.6" y="37.5" width="17.8" height="7" fill="#fff"/><text x="21.6" y="43.4" font-family="Liberation Sans, Arial, sans-serif" font-weight="bold" font-size="6.6" letter-spacing="-0.6" fill="#33248A" stroke="#33248A" stroke-width="0.25">Fed<tspan fill="#EA621A" stroke="#EA621A">Ex</tspan></text></svg>
</div>
<div class="tile b" style="left:402.00px;top:119.64px"><span>43A</span><svg viewBox="0 0 46.3 53"><path d="M14 47.6L41 38.6L41.4 36L12 46Z" fill="#031238" opacity="0.5"/><path d="M10 32L36 25.9L40.7 34.5L39.8 37.6L15 46.2Q9 47.2 7.3 40.4Q6.4 34.4 10 32Z" fill="#F4F4F0"/><path d="M15 46.2L39.8 37.6L40.7 34.5L40 34.2L38.6 36.2L15.2 44.2Q11.5 45 9.6 42.6Q11 46.9 15 46.2Z" fill="#B5B5AE"/><path d="M36 25.9L40.7 34.5L39.8 37.6L37 36.6L35.2 27.2Z" fill="#D6D6D0"/><ellipse cx="11.9" cy="39.4" rx="4.3" ry="6.2" transform="rotate(-14 11.9 39.4)" fill="#E6E6E0" stroke="#C4C4BC" stroke-width="0.5"/><path d="M11.6 35.6Q14.3 36.6 14 39.6Q13.4 42.6 11.2 42.6Q9.6 41.4 10 39Q10.6 37.4 11.8 37.8Q12.6 38.6 12 39.8" fill="none" stroke="#9E9E98" stroke-width="0.55"/><g transform="rotate(-13.5 24 36)"><text x="16.2" y="32.9" font-family="Liberation Serif, Times, serif" font-weight="bold" font-size="3.6" fill="#6C6C70" stroke="#6C6C70" stroke-width="0.15" textLength="18.5" lengthAdjust="spacingAndGlyphs">THE TIMES</text><rect x="17.4" y="34.4" width="6.6" height="4.4" fill="#A79C94"/><rect x="17.4" y="39.4" width="6.6" height="0.7" fill="#BDBDB6"/><rect x="25.2" y="33.9" width="9.4" height="6.3" fill="#75502E"/><path d="M26.6 40.2L30 35.2L32.4 37.6L34.6 35.8V40.2Z" fill="#24150C"/><path d="M25.2 33.9H30L27 37.5L25.2 37Z" fill="#9A7448"/><rect x="35.4" y="34.2" width="2.4" height="4.6" fill="#C6C6BF"/></g></svg>
</div>
<div class="tile b" style="left:4.00px;top:177.51px"><span>2B</span><svg viewBox="0 0 46.3 53"><path d="M14 47.6L41 38.6L41.4 36L12 46Z" fill="#031238" opacity="0.5"/><path d="M10 32L36 25.9L40.7 34.5L39.8 37.6L15 46.2Q9 47.2 7.3 40.4Q6.4 34.4 10 32Z" fill="#F4F4F0"/><path d="M15 46.2L39.8 37.6L40.7 34.5L40 34.2L38.6 36.2L15.2 44.2Q11.5 45 9.6 42.6Q11 46.9 15 46.2Z" fill="#B5B5AE"/><path d="M36 25.9L40.7 34.5L39.8 37.6L37 36.6L35.2 27.2Z" fill="#D6D6D0"/><ellipse cx="11.9" cy="39.4" rx="4.3" ry="6.2" transform="rotate(-14 11.9 39.4)" fill="#E6E6E0" stroke="#C4C4BC" stroke-width="0.5"/><path d="M11.6 35.6Q14.3 36.6 14 39.6Q13.4 42.6 11.2 42.6Q9.6 41.4 10 39Q10.6 37.4 11.8 37.8Q12.6 38.6 12 39.8" fill="none" stroke="#9E9E98" stroke-width="0.55"/><g transform="rotate(-13.5 24 36)"><text x="16.2" y="32.9" font-family="Liberation Serif, Times, serif" font-weight="bold" font-size="3.6" fill="#6C6C70" stroke="#6C6C70" stroke-width="0.15" textLength="18.5" lengthAdjust="spacingAndGlyphs">THE TIMES</text><rect x="17.4" y="34.4" width="6.6" height="4.4" fill="#A79C94"/><rect x="17.4" y="39.4" width="6.6" height="0.7" fill="#BDBDB6"/><rect x="25.2" y="33.9" width="9.4" height="6.3" fill="#75502E"/><path d="M26.6 40.2L30 35.2L32.4 37.6L34.6 35.8V40.2Z" fill="#24150C"/><path d="M25.2 33.9H30L27 37.5L25.2 37Z" fill="#9A7448"/><rect x="35.4" y="34.2" width="2.4" height="4.6" fill="#C6C6BF"/></g></svg>
</div>
<div class="tile o" style="left:53.75px;top:177.51px"><span>6B</span><svg viewBox="0 0 46.3 53"><ellipse cx="23.2" cy="45.6" rx="11.4" ry="2.4" fill="#6A3208" opacity="0.28"/><path d="M12 25.9L24.6 22L34.6 26.4L21.9 29.9Z" fill="#F6E9C2" stroke="#E8D6A0" stroke-width="0.3"/><path d="M12 25.9L21.9 29.9L22.4 47L12.4 43.2Z" fill="url(#uL)"/><path d="M21.9 29.9L34.6 26.4L34.3 43.6L22.4 47Z" fill="url(#uR)"/><path d="M27.3 28.4L29.2 27.9L29.1 35L27.3 35.4Z" fill="#F3E3B2"/><path d="M17.4 23.9L19.4 23.4L29.6 27.6L27.4 28.3Z" fill="#FBF3DA" opacity="0.8"/><path d="M13.8 37.3L20.2 39.6L20.3 43.6L13.9 41.3Z" fill="#9F7C38" opacity="0.75"/><path d="M24 35.4Q28.8 33.9 33.6 35.4L33.6 43.5Q33.3 45.9 28.8 47.5Q24.3 45.9 24 43.5Z" fill="#D9A23A"/><path d="M24.6 36Q28.8 34.7 33 36L33 43.4Q32.7 45.4 28.8 46.8Q24.9 45.4 24.6 43.4Z" fill="#3A1C06"/><path d="M25.2 36.5Q28.8 35.5 32.4 36.5L32.4 38.2Q28.6 37.4 25.2 39.6Z" fill="#7A4414"/><text x="28.8" y="43.6" text-anchor="middle" font-family="Liberation Sans, Arial, sans-serif" font-weight="bold" font-size="5.6" fill="#F0AA28" stroke="#F0AA28" stroke-width="0.25" letter-spacing="-0.45">ups</text></svg>
</div>
<div class="tile t" style="left:103.50px;top:177.51px"><span>11A</span><svg viewBox="0 0 46.3 53"><path d="M22.7 29.1C21.7 26.8 20.2 24.4 21.5 22.6C22.9 21.1 25.9 21.4 26.1 23.9" fill="none" stroke="#98A2A2" stroke-width="0.8" stroke-linecap="round"/><g transform="translate(0 -0.6)"><path d="M23 30.5L39 36L38.4 38.7L9.3 47L7.6 45Z" fill="#6FAAA4" opacity="0.5"/><path d="M23 29.5L38.6 35L38.1 37.6L9 45.9L7.5 44.1Z" fill="#fff" stroke="#C4D2D2" stroke-width="0.35"/><g transform="rotate(-16 23 38)" font-family="Liberation Sans, Arial, sans-serif" font-weight="bold" fill="#16224F" stroke="#16224F"><text x="17.4" y="38" font-size="4.4" stroke-width="0.3" letter-spacing="-0.2">WE</text><text x="25.8" y="38.5" font-size="7.4" fill="#CF2436" stroke="#CF2436" stroke-width="0.3">♥</text><text x="11" y="41.9" font-size="2.7" stroke-width="0.35" textLength="24" lengthAdjust="spacingAndGlyphs">OUR CUSTOMERS</text></g></g></svg>
</div>
<div class="tile o" style="left:153.25px;top:177.51px"><span>18B</span><svg viewBox="0 0 46.3 53"><ellipse cx="23.2" cy="45.6" rx="11.4" ry="2.4" fill="#6A3208" opacity="0.28"/><path d="M12 25.9L24.6 22L34.6 26.4L21.9 29.9Z" fill="#F6E9C2" stroke="#E8D6A0" stroke-width="0.3"/><path d="M12 25.9L21.9 29.9L22.4 47L12.4 43.2Z" fill="url(#uL)"/><path d="M21.9 29.9L34.6 26.4L34.3 43.6L22.4 47Z" fill="url(#uR)"/><path d="M27.3 28.4L29.2 27.9L29.1 35L27.3 35.4Z" fill="#F3E3B2"/><path d="M17.4 23.9L19.4 23.4L29.6 27.6L27.4 28.3Z" fill="#FBF3DA" opacity="0.8"/><path d="M13.8 37.3L20.2 39.6L20.3 43.6L13.9 41.3Z" fill="#9F7C38" opacity="0.75"/><path d="M24 35.4Q28.8 33.9 33.6 35.4L33.6 43.5Q33.3 45.9 28.8 47.5Q24.3 45.9 24 43.5Z" fill="#D9A23A"/><path d="M24.6 36Q28.8 34.7 33 36L33 43.4Q32.7 45.4 28.8 46.8Q24.9 45.4 24.6 43.4Z" fill="#3A1C06"/><path d="M25.2 36.5Q28.8 35.5 32.4 36.5L32.4 38.2Q28.6 37.4 25.2 39.6Z" fill="#7A4414"/><text x="28.8" y="43.6" text-anchor="middle" font-family="Liberation Sans, Arial, sans-serif" font-weight="bold" font-size="5.6" fill="#F0AA28" stroke="#F0AA28" stroke-width="0.25" letter-spacing="-0.45">ups</text></svg>
</div>
<div class="tile o" style="left:203.00px;top:177.51px"><span>23A</span><svg viewBox="0 0 46.3 53"><ellipse cx="23.2" cy="45.6" rx="11.4" ry="2.4" fill="#6A3208" opacity="0.28"/><path d="M12 25.9L24.6 22L34.6 26.4L21.9 29.9Z" fill="#F6E9C2" stroke="#E8D6A0" stroke-width="0.3"/><path d="M12 25.9L21.9 29.9L22.4 47L12.4 43.2Z" fill="url(#uL)"/><path d="M21.9 29.9L34.6 26.4L34.3 43.6L22.4 47Z" fill="url(#uR)"/><path d="M27.3 28.4L29.2 27.9L29.1 35L27.3 35.4Z" fill="#F3E3B2"/><path d="M17.4 23.9L19.4 23.4L29.6 27.6L27.4 28.3Z" fill="#FBF3DA" opacity="0.8"/><path d="M13.8 37.3L20.2 39.6L20.3 43.6L13.9 41.3Z" fill="#9F7C38" opacity="0.75"/><path d="M24 35.4Q28.8 33.9 33.6 35.4L33.6 43.5Q33.3 45.9 28.8 47.5Q24.3 45.9 24 43.5Z" fill="#D9A23A"/><path d="M24.6 36Q28.8 34.7 33 36L33 43.4Q32.7 45.4 28.8 46.8Q24.9 45.4 24.6 43.4Z" fill="#3A1C06"/><path d="M25.2 36.5Q28.8 35.5 32.4 36.5L32.4 38.2Q28.6 37.4 25.2 39.6Z" fill="#7A4414"/><text x="28.8" y="43.6" text-anchor="middle" font-family="Liberation Sans, Arial, sans-serif" font-weight="bold" font-size="5.6" fill="#F0AA28" stroke="#F0AA28" stroke-width="0.25" letter-spacing="-0.45">ups</text></svg>
</div>
<div class="tile t" style="left:252.75px;top:177.51px"><span>28B</span><svg viewBox="0 0 46.3 53"><path d="M22.7 29.1C21.7 26.8 20.2 24.4 21.5 22.6C22.9 21.1 25.9 21.4 26.1 23.9" fill="none" stroke="#98A2A2" stroke-width="0.8" stroke-linecap="round"/><g transform="translate(0 -0.6)"><path d="M23 30.5L39 36L38.4 38.7L9.3 47L7.6 45Z" fill="#6FAAA4" opacity="0.5"/><path d="M23 29.5L38.6 35L38.1 37.6L9 45.9L7.5 44.1Z" fill="#fff" stroke="#C4D2D2" stroke-width="0.35"/><g transform="rotate(-16 23 38)" font-family="Liberation Sans, Arial, sans-serif" font-weight="bold" fill="#16224F" stroke="#16224F"><text x="17.4" y="38" font-size="4.4" stroke-width="0.3" letter-spacing="-0.2">WE</text><text x="25.8" y="38.5" font-size="7.4" fill="#CF2436" stroke="#CF2436" stroke-width="0.3">♥</text><text x="11" y="41.9" font-size="2.7" stroke-width="0.35" textLength="24" lengthAdjust="spacingAndGlyphs">OUR CUSTOMERS</text></g></g></svg>
</div>
<div class="tile l" style="left:302.50px;top:177.51px"><span>34B</span><svg viewBox="0 0 46.3 53"><ellipse cx="23.2" cy="45.4" rx="11.4" ry="2.2" fill="#B06A20" opacity="0.25"/><path d="M12 25.9L23.5 22.4L35 26.6L21.9 29.9Z" fill="#F4E5BC" stroke="#E6D29A" stroke-width="0.3"/><path d="M12 25.9L21.9 29.9L22 46.6L12.3 43.1Z" fill="url(#fL)"/><path d="M21.9 29.9L35 26.6L34.7 43.2L22 46.6Z" fill="url(#fR)"/><path d="M27.3 28.5L29.3 28L29.2 38L27.3 38Z" fill="#F1DFAC"/><path d="M16.8 24.4L18.8 23.8L29.8 27.9L27.6 28.5Z" fill="#FBF1D6" opacity="0.8"/><path d="M13.8 37.5L20.2 39.6L20.3 43.4L13.9 41.2Z" fill="#A88640" opacity="0.7"/><rect x="20.6" y="37.5" width="17.8" height="7" fill="#fff"/><text x="21.6" y="43.4" font-family="Liberation Sans, Arial, sans-serif" font-weight="bold" font-size="6.6" letter-spacing="-0.6" fill="#33248A" stroke="#33248A" stroke-width="0.25">Fed<tspan fill="#EA621A" stroke="#EA621A">Ex</tspan></text></svg>
</div>
<div class="tile o" style="left:352.25px;top:177.51px"><span>39C</span><svg viewBox="0 0 46.3 53"><ellipse cx="23.2" cy="45.6" rx="11.4" ry="2.4" fill="#6A3208" opacity="0.28"/><path d="M12 25.9L24.6 22L34.6 26.4L21.9 29.9Z" fill="#F6E9C2" stroke="#E8D6A0" stroke-width="0.3"/><path d="M12 25.9L21.9 29.9L22.4 47L12.4 43.2Z" fill="url(#uL)"/><path d="M21.9 29.9L34.6 26.4L34.3 43.6L22.4 47Z" fill="url(#uR)"/><path d="M27.3 28.4L29.2 27.9L29.1 35L27.3 35.4Z" fill="#F3E3B2"/><path d="M17.4 23.9L19.4 23.4L29.6 27.6L27.4 28.3Z" fill="#FBF3DA" opacity="0.8"/><path d="M13.8 37.3L20.2 39.6L20.3 43.6L13.9 41.3Z" fill="#9F7C38" opacity="0.75"/><path d="M24 35.4Q28.8 33.9 33.6 35.4L33.6 43.5Q33.3 45.9 28.8 47.5Q24.3 45.9 24 43.5Z" fill="#D9A23A"/><path d="M24.6 36Q28.8 34.7 33 36L33 43.4Q32.7 45.4 28.8 46.8Q24.9 45.4 24.6 43.4Z" fill="#3A1C06"/><path d="M25.2 36.5Q28.8 35.5 32.4 36.5L32.4 38.2Q28.6 37.4 25.2 39.6Z" fill="#7A4414"/><text x="28.8" y="43.6" text-anchor="middle" font-family="Liberation Sans, Arial, sans-serif" font-weight="bold" font-size="5.6" fill="#F0AA28" stroke="#F0AA28" stroke-width="0.25" letter-spacing="-0.45">ups</text></svg>
</div>
<div class="tile b" style="left:402.00px;top:177.51px"><span>43C</span><svg viewBox="0 0 46.3 53"><path d="M14 47.6L41 38.6L41.4 36L12 46Z" fill="#031238" opacity="0.5"/><path d="M10 32L36 25.9L40.7 34.5L39.8 37.6L15 46.2Q9 47.2 7.3 40.4Q6.4 34.4 10 32Z" fill="#F4F4F0"/><path d="M15 46.2L39.8 37.6L40.7 34.5L40 34.2L38.6 36.2L15.2 44.2Q11.5 45 9.6 42.6Q11 46.9 15 46.2Z" fill="#B5B5AE"/><path d="M36 25.9L40.7 34.5L39.8 37.6L37 36.6L35.2 27.2Z" fill="#D6D6D0"/><ellipse cx="11.9" cy="39.4" rx="4.3" ry="6.2" transform="rotate(-14 11.9 39.4)" fill="#E6E6E0" stroke="#C4C4BC" stroke-width="0.5"/><path d="M11.6 35.6Q14.3 36.6 14 39.6Q13.4 42.6 11.2 42.6Q9.6 41.4 10 39Q10.6 37.4 11.8 37.8Q12.6 38.6 12 39.8" fill="none" stroke="#9E9E98" stroke-width="0.55"/><g transform="rotate(-13.5 24 36)"><text x="16.2" y="32.9" font-family="Liberation Serif, Times, serif" font-weight="bold" font-size="3.6" fill="#6C6C70" stroke="#6C6C70" stroke-width="0.15" textLength="18.5" lengthAdjust="spacingAndGlyphs">THE TIMES</text><rect x="17.4" y="34.4" width="6.6" height="4.4" fill="#A79C94"/><rect x="17.4" y="39.4" width="6.6" height="0.7" fill="#BDBDB6"/><rect x="25.2" y="33.9" width="9.4" height="6.3" fill="#75502E"/><path d="M26.6 40.2L30 35.2L32.4 37.6L34.6 35.8V40.2Z" fill="#24150C"/><path d="M25.2 33.9H30L27 37.5L25.2 37Z" fill="#9A7448"/><rect x="35.4" y="34.2" width="2.4" height="4.6" fill="#C6C6BF"/></g></svg>
</div>
<div class="tile t" style="left:4.00px;top:235.38px"><span>2C</span><svg viewBox="0 0 46.3 53"><path d="M22.7 29.1C21.7 26.8 20.2 24.4 21.5 22.6C22.9 21.1 25.9 21.4 26.1 23.9" fill="none" stroke="#98A2A2" stroke-width="0.8" stroke-linecap="round"/><g transform="translate(0 -0.6)"><path d="M23 30.5L39 36L38.4 38.7L9.3 47L7.6 45Z" fill="#6FAAA4" opacity="0.5"/><path d="M23 29.5L38.6 35L38.1 37.6L9 45.9L7.5 44.1Z" fill="#fff" stroke="#C4D2D2" stroke-width="0.35"/><g transform="rotate(-16 23 38)" font-family="Liberation Sans, Arial, sans-serif" font-weight="bold" fill="#16224F" stroke="#16224F"><text x="17.4" y="38" font-size="4.4" stroke-width="0.3" letter-spacing="-0.2">WE</text><text x="25.8" y="38.5" font-size="7.4" fill="#CF2436" stroke="#CF2436" stroke-width="0.3">♥</text><text x="11" y="41.9" font-size="2.7" stroke-width="0.35" textLength="24" lengthAdjust="spacingAndGlyphs">OUR CUSTOMERS</text></g></g></svg>
</div>
<div class="tile t" style="left:53.75px;top:235.38px"><span>7A</span><svg viewBox="0 0 46.3 53"><path d="M22.7 29.1C21.7 26.8 20.2 24.4 21.5 22.6C22.9 21.1 25.9 21.4 26.1 23.9" fill="none" stroke="#98A2A2" stroke-width="0.8" stroke-linecap="round"/><g transform="translate(0 -0.6)"><path d="M23 30.5L39 36L38.4 38.7L9.3 47L7.6 45Z" fill="#6FAAA4" opacity="0.5"/><path d="M23 29.5L38.6 35L38.1 37.6L9 45.9L7.5 44.1Z" fill="#fff" stroke="#C4D2D2" stroke-width="0.35"/><g transform="rotate(-16 23 38)" font-family="Liberation Sans, Arial, sans-serif" font-weight="bold" fill="#16224F" stroke="#16224F"><text x="17.4" y="38" font-size="4.4" stroke-width="0.3" letter-spacing="-0.2">WE</text><text x="25.8" y="38.5" font-size="7.4" fill="#CF2436" stroke="#CF2436" stroke-width="0.3">♥</text><text x="11" y="41.9" font-size="2.7" stroke-width="0.35" textLength="24" lengthAdjust="spacingAndGlyphs">OUR CUSTOMERS</text></g></g></svg>
</div>
<div class="tile l" style="left:103.50px;top:235.38px"><span>11C</span><svg viewBox="0 0 46.3 53"><ellipse cx="23.2" cy="45.4" rx="11.4" ry="2.2" fill="#B06A20" opacity="0.25"/><path d="M12 25.9L23.5 22.4L35 26.6L21.9 29.9Z" fill="#F4E5BC" stroke="#E6D29A" stroke-width="0.3"/><path d="M12 25.9L21.9 29.9L22 46.6L12.3 43.1Z" fill="url(#fL)"/><path d="M21.9 29.9L35 26.6L34.7 43.2L22 46.6Z" fill="url(#fR)"/><path d="M27.3 28.5L29.3 28L29.2 38L27.3 38Z" fill="#F1DFAC"/><path d="M16.8 24.4L18.8 23.8L29.8 27.9L27.6 28.5Z" fill="#FBF1D6" opacity="0.8"/><path d="M13.8 37.5L20.2 39.6L20.3 43.4L13.9 41.2Z" fill="#A88640" opacity="0.7"/><rect x="20.6" y="37.5" width="17.8" height="7" fill="#fff"/><text x="21.6" y="43.4" font-family="Liberation Sans, Arial, sans-serif" font-weight="bold" font-size="6.6" letter-spacing="-0.6" fill="#33248A" stroke="#33248A" stroke-width="0.25">Fed<tspan fill="#EA621A" stroke="#EA621A">Ex</tspan></text></svg>
</div>
<div class="tile b" style="left:153.25px;top:235.38px"><span>18C</span><svg viewBox="0 0 46.3 53"><path d="M14 47.6L41 38.6L41.4 36L12 46Z" fill="#031238" opacity="0.5"/><path d="M10 32L36 25.9L40.7 34.5L39.8 37.6L15 46.2Q9 47.2 7.3 40.4Q6.4 34.4 10 32Z" fill="#F4F4F0"/><path d="M15 46.2L39.8 37.6L40.7 34.5L40 34.2L38.6 36.2L15.2 44.2Q11.5 45 9.6 42.6Q11 46.9 15 46.2Z" fill="#B5B5AE"/><path d="M36 25.9L40.7 34.5L39.8 37.6L37 36.6L35.2 27.2Z" fill="#D6D6D0"/><ellipse cx="11.9" cy="39.4" rx="4.3" ry="6.2" transform="rotate(-14 11.9 39.4)" fill="#E6E6E0" stroke="#C4C4BC" stroke-width="0.5"/><path d="M11.6 35.6Q14.3 36.6 14 39.6Q13.4 42.6 11.2 42.6Q9.6 41.4 10 39Q10.6 37.4 11.8 37.8Q12.6 38.6 12 39.8" fill="none" stroke="#9E9E98" stroke-width="0.55"/><g transform="rotate(-13.5 24 36)"><text x="16.2" y="32.9" font-family="Liberation Serif, Times, serif" font-weight="bold" font-size="3.6" fill="#6C6C70" stroke="#6C6C70" stroke-width="0.15" textLength="18.5" lengthAdjust="spacingAndGlyphs">THE TIMES</text><rect x="17.4" y="34.4" width="6.6" height="4.4" fill="#A79C94"/><rect x="17.4" y="39.4" width="6.6" height="0.7" fill="#BDBDB6"/><rect x="25.2" y="33.9" width="9.4" height="6.3" fill="#75502E"/><path d="M26.6 40.2L30 35.2L32.4 37.6L34.6 35.8V40.2Z" fill="#24150C"/><path d="M25.2 33.9H30L27 37.5L25.2 37Z" fill="#9A7448"/><rect x="35.4" y="34.2" width="2.4" height="4.6" fill="#C6C6BF"/></g></svg>
</div>
<div class="tile o" style="left:203.00px;top:235.38px"><span>23B</span><svg viewBox="0 0 46.3 53"><ellipse cx="23.2" cy="45.6" rx="11.4" ry="2.4" fill="#6A3208" opacity="0.28"/><path d="M12 25.9L24.6 22L34.6 26.4L21.9 29.9Z" fill="#F6E9C2" stroke="#E8D6A0" stroke-width="0.3"/><path d="M12 25.9L21.9 29.9L22.4 47L12.4 43.2Z" fill="url(#uL)"/><path d="M21.9 29.9L34.6 26.4L34.3 43.6L22.4 47Z" fill="url(#uR)"/><path d="M27.3 28.4L29.2 27.9L29.1 35L27.3 35.4Z" fill="#F3E3B2"/><path d="M17.4 23.9L19.4 23.4L29.6 27.6L27.4 28.3Z" fill="#FBF3DA" opacity="0.8"/><path d="M13.8 37.3L20.2 39.6L20.3 43.6L13.9 41.3Z" fill="#9F7C38" opacity="0.75"/><path d="M24 35.4Q28.8 33.9 33.6 35.4L33.6 43.5Q33.3 45.9 28.8 47.5Q24.3 45.9 24 43.5Z" fill="#D9A23A"/><path d="M24.6 36Q28.8 34.7 33 36L33 43.4Q32.7 45.4 28.8 46.8Q24.9 45.4 24.6 43.4Z" fill="#3A1C06"/><path d="M25.2 36.5Q28.8 35.5 32.4 36.5L32.4 38.2Q28.6 37.4 25.2 39.6Z" fill="#7A4414"/><text x="28.8" y="43.6" text-anchor="middle" font-family="Liberation Sans, Arial, sans-serif" font-weight="bold" font-size="5.6" fill="#F0AA28" stroke="#F0AA28" stroke-width="0.25" letter-spacing="-0.45">ups</text></svg>
</div>
<div class="tile l" style="left:252.75px;top:235.38px"><span>28C</span><svg viewBox="0 0 46.3 53"><ellipse cx="23.2" cy="45.4" rx="11.4" ry="2.2" fill="#B06A20" opacity="0.25"/><path d="M12 25.9L23.5 22.4L35 26.6L21.9 29.9Z" fill="#F4E5BC" stroke="#E6D29A" stroke-width="0.3"/><path d="M12 25.9L21.9 29.9L22 46.6L12.3 43.1Z" fill="url(#fL)"/><path d="M21.9 29.9L35 26.6L34.7 43.2L22 46.6Z" fill="url(#fR)"/><path d="M27.3 28.5L29.3 28L29.2 38L27.3 38Z" fill="#F1DFAC"/><path d="M16.8 24.4L18.8 23.8L29.8 27.9L27.6 28.5Z" fill="#FBF1D6" opacity="0.8"/><path d="M13.8 37.5L20.2 39.6L20.3 43.4L13.9 41.2Z" fill="#A88640" opacity="0.7"/><rect x="20.6" y="37.5" width="17.8" height="7" fill="#fff"/><text x="21.6" y="43.4" font-family="Liberation Sans, Arial, sans-serif" font-weight="bold" font-size="6.6" letter-spacing="-0.6" fill="#33248A" stroke="#33248A" stroke-width="0.25">Fed<tspan fill="#EA621A" stroke="#EA621A">Ex</tspan></text></svg>
</div>
<div class="tile b" style="left:302.50px;top:235.38px"><span>35A</span><svg viewBox="0 0 46.3 53"><path d="M14 47.6L41 38.6L41.4 36L12 46Z" fill="#031238" opacity="0.5"/><path d="M10 32L36 25.9L40.7 34.5L39.8 37.6L15 46.2Q9 47.2 7.3 40.4Q6.4 34.4 10 32Z" fill="#F4F4F0"/><path d="M15 46.2L39.8 37.6L40.7 34.5L40 34.2L38.6 36.2L15.2 44.2Q11.5 45 9.6 42.6Q11 46.9 15 46.2Z" fill="#B5B5AE"/><path d="M36 25.9L40.7 34.5L39.8 37.6L37 36.6L35.2 27.2Z" fill="#D6D6D0"/><ellipse cx="11.9" cy="39.4" rx="4.3" ry="6.2" transform="rotate(-14 11.9 39.4)" fill="#E6E6E0" stroke="#C4C4BC" stroke-width="0.5"/><path d="M11.6 35.6Q14.3 36.6 14 39.6Q13.4 42.6 11.2 42.6Q9.6 41.4 10 39Q10.6 37.4 11.8 37.8Q12.6 38.6 12 39.8" fill="none" stroke="#9E9E98" stroke-width="0.55"/><g transform="rotate(-13.5 24 36)"><text x="16.2" y="32.9" font-family="Liberation Serif, Times, serif" font-weight="bold" font-size="3.6" fill="#6C6C70" stroke="#6C6C70" stroke-width="0.15" textLength="18.5" lengthAdjust="spacingAndGlyphs">THE TIMES</text><rect x="17.4" y="34.4" width="6.6" height="4.4" fill="#A79C94"/><rect x="17.4" y="39.4" width="6.6" height="0.7" fill="#BDBDB6"/><rect x="25.2" y="33.9" width="9.4" height="6.3" fill="#75502E"/><path d="M26.6 40.2L30 35.2L32.4 37.6L34.6 35.8V40.2Z" fill="#24150C"/><path d="M25.2 33.9H30L27 37.5L25.2 37Z" fill="#9A7448"/><rect x="35.4" y="34.2" width="2.4" height="4.6" fill="#C6C6BF"/></g></svg>
</div>
<div class="tile t" style="left:352.25px;top:235.38px"><span>40A</span><svg viewBox="0 0 46.3 53"><path d="M22.7 29.1C21.7 26.8 20.2 24.4 21.5 22.6C22.9 21.1 25.9 21.4 26.1 23.9" fill="none" stroke="#98A2A2" stroke-width="0.8" stroke-linecap="round"/><g transform="translate(0 -0.6)"><path d="M23 30.5L39 36L38.4 38.7L9.3 47L7.6 45Z" fill="#6FAAA4" opacity="0.5"/><path d="M23 29.5L38.6 35L38.1 37.6L9 45.9L7.5 44.1Z" fill="#fff" stroke="#C4D2D2" stroke-width="0.35"/><g transform="rotate(-16 23 38)" font-family="Liberation Sans, Arial, sans-serif" font-weight="bold" fill="#16224F" stroke="#16224F"><text x="17.4" y="38" font-size="4.4" stroke-width="0.3" letter-spacing="-0.2">WE</text><text x="25.8" y="38.5" font-size="7.4" fill="#CF2436" stroke="#CF2436" stroke-width="0.3">♥</text><text x="11" y="41.9" font-size="2.7" stroke-width="0.35" textLength="24" lengthAdjust="spacingAndGlyphs">OUR CUSTOMERS</text></g></g></svg>
</div>
<div class="tile b" style="left:402.00px;top:235.38px"><span>44A</span><svg viewBox="0 0 46.3 53"><path d="M14 47.6L41 38.6L41.4 36L12 46Z" fill="#031238" opacity="0.5"/><path d="M10 32L36 25.9L40.7 34.5L39.8 37.6L15 46.2Q9 47.2 7.3 40.4Q6.4 34.4 10 32Z" fill="#F4F4F0"/><path d="M15 46.2L39.8 37.6L40.7 34.5L40 34.2L38.6 36.2L15.2 44.2Q11.5 45 9.6 42.6Q11 46.9 15 46.2Z" fill="#B5B5AE"/><path d="M36 25.9L40.7 34.5L39.8 37.6L37 36.6L35.2 27.2Z" fill="#D6D6D0"/><ellipse cx="11.9" cy="39.4" rx="4.3" ry="6.2" transform="rotate(-14 11.9 39.4)" fill="#E6E6E0" stroke="#C4C4BC" stroke-width="0.5"/><path d="M11.6 35.6Q14.3 36.6 14 39.6Q13.4 42.6 11.2 42.6Q9.6 41.4 10 39Q10.6 37.4 11.8 37.8Q12.6 38.6 12 39.8" fill="none" stroke="#9E9E98" stroke-width="0.55"/><g transform="rotate(-13.5 24 36)"><text x="16.2" y="32.9" font-family="Liberation Serif, Times, serif" font-weight="bold" font-size="3.6" fill="#6C6C70" stroke="#6C6C70" stroke-width="0.15" textLength="18.5" lengthAdjust="spacingAndGlyphs">THE TIMES</text><rect x="17.4" y="34.4" width="6.6" height="4.4" fill="#A79C94"/><rect x="17.4" y="39.4" width="6.6" height="0.7" fill="#BDBDB6"/><rect x="25.2" y="33.9" width="9.4" height="6.3" fill="#75502E"/><path d="M26.6 40.2L30 35.2L32.4 37.6L34.6 35.8V40.2Z" fill="#24150C"/><path d="M25.2 33.9H30L27 37.5L25.2 37Z" fill="#9A7448"/><rect x="35.4" y="34.2" width="2.4" height="4.6" fill="#C6C6BF"/></g></svg>
</div>
<div class="tile b" style="left:4.00px;top:293.25px"><span>2C</span><svg viewBox="0 0 46.3 53"><path d="M14 47.6L41 38.6L41.4 36L12 46Z" fill="#031238" opacity="0.5"/><path d="M10 32L36 25.9L40.7 34.5L39.8 37.6L15 46.2Q9 47.2 7.3 40.4Q6.4 34.4 10 32Z" fill="#F4F4F0"/><path d="M15 46.2L39.8 37.6L40.7 34.5L40 34.2L38.6 36.2L15.2 44.2Q11.5 45 9.6 42.6Q11 46.9 15 46.2Z" fill="#B5B5AE"/><path d="M36 25.9L40.7 34.5L39.8 37.6L37 36.6L35.2 27.2Z" fill="#D6D6D0"/><ellipse cx="11.9" cy="39.4" rx="4.3" ry="6.2" transform="rotate(-14 11.9 39.4)" fill="#E6E6E0" stroke="#C4C4BC" stroke-width="0.5"/><path d="M11.6 35.6Q14.3 36.6 14 39.6Q13.4 42.6 11.2 42.6Q9.6 41.4 10 39Q10.6 37.4 11.8 37.8Q12.6 38.6 12 39.8" fill="none" stroke="#9E9E98" stroke-width="0.55"/><g transform="rotate(-13.5 24 36)"><text x="16.2" y="32.9" font-family="Liberation Serif, Times, serif" font-weight="bold" font-size="3.6" fill="#6C6C70" stroke="#6C6C70" stroke-width="0.15" textLength="18.5" lengthAdjust="spacingAndGlyphs">THE TIMES</text><rect x="17.4" y="34.4" width="6.6" height="4.4" fill="#A79C94"/><rect x="17.4" y="39.4" width="6.6" height="0.7" fill="#BDBDB6"/><rect x="25.2" y="33.9" width="9.4" height="6.3" fill="#75502E"/><path d="M26.6 40.2L30 35.2L32.4 37.6L34.6 35.8V40.2Z" fill="#24150C"/><path d="M25.2 33.9H30L27 37.5L25.2 37Z" fill="#9A7448"/><rect x="35.4" y="34.2" width="2.4" height="4.6" fill="#C6C6BF"/></g></svg>
</div>
<div class="tile o" style="left:53.75px;top:293.25px"><span>7B</span><svg viewBox="0 0 46.3 53"><ellipse cx="23.2" cy="45.6" rx="11.4" ry="2.4" fill="#6A3208" opacity="0.28"/><path d="M12 25.9L24.6 22L34.6 26.4L21.9 29.9Z" fill="#F6E9C2" stroke="#E8D6A0" stroke-width="0.3"/><path d="M12 25.9L21.9 29.9L22.4 47L12.4 43.2Z" fill="url(#uL)"/><path d="M21.9 29.9L34.6 26.4L34.3 43.6L22.4 47Z" fill="url(#uR)"/><path d="M27.3 28.4L29.2 27.9L29.1 35L27.3 35.4Z" fill="#F3E3B2"/><path d="M17.4 23.9L19.4 23.4L29.6 27.6L27.4 28.3Z" fill="#FBF3DA" opacity="0.8"/><path d="M13.8 37.3L20.2 39.6L20.3 43.6L13.9 41.3Z" fill="#9F7C38" opacity="0.75"/><path d="M24 35.4Q28.8 33.9 33.6 35.4L33.6 43.5Q33.3 45.9 28.8 47.5Q24.3 45.9 24 43.5Z" fill="#D9A23A"/><path d="M24.6 36Q28.8 34.7 33 36L33 43.4Q32.7 45.4 28.8 46.8Q24.9 45.4 24.6 43.4Z" fill="#3A1C06"/><path d="M25.2 36.5Q28.8 35.5 32.4 36.5L32.4 38.2Q28.6 37.4 25.2 39.6Z" fill="#7A4414"/><text x="28.8" y="43.6" text-anchor="middle" font-family="Liberation Sans, Arial, sans-serif" font-weight="bold" font-size="5.6" fill="#F0AA28" stroke="#F0AA28" stroke-width="0.25" letter-spacing="-0.45">ups</text></svg>
</div>
<div class="tile t" style="left:103.50px;top:293.25px"><span>11D</span><svg viewBox="0 0 46.3 53"><path d="M22.7 29.1C21.7 26.8 20.2 24.4 21.5 22.6C22.9 21.1 25.9 21.4 26.1 23.9" fill="none" stroke="#98A2A2" stroke-width="0.8" stroke-linecap="round"/><g transform="translate(0 -0.6)"><path d="M23 30.5L39 36L38.4 38.7L9.3 47L7.6 45Z" fill="#6FAAA4" opacity="0.5"/><path d="M23 29.5L38.6 35L38.1 37.6L9 45.9L7.5 44.1Z" fill="#fff" stroke="#C4D2D2" stroke-width="0.35"/><g transform="rotate(-16 23 38)" font-family="Liberation Sans, Arial, sans-serif" font-weight="bold" fill="#16224F" stroke="#16224F"><text x="17.4" y="38" font-size="4.4" stroke-width="0.3" letter-spacing="-0.2">WE</text><text x="25.8" y="38.5" font-size="7.4" fill="#CF2436" stroke="#CF2436" stroke-width="0.3">♥</text><text x="11" y="41.9" font-size="2.7" stroke-width="0.35" textLength="24" lengthAdjust="spacingAndGlyphs">OUR CUSTOMERS</text></g></g></svg>
</div>
<div class="tile t" style="left:153.25px;top:293.25px"><span>20A</span><svg viewBox="0 0 46.3 53"><path d="M22.7 29.1C21.7 26.8 20.2 24.4 21.5 22.6C22.9 21.1 25.9 21.4 26.1 23.9" fill="none" stroke="#98A2A2" stroke-width="0.8" stroke-linecap="round"/><g transform="translate(0 -0.6)"><path d="M23 30.5L39 36L38.4 38.7L9.3 47L7.6 45Z" fill="#6FAAA4" opacity="0.5"/><path d="M23 29.5L38.6 35L38.1 37.6L9 45.9L7.5 44.1Z" fill="#fff" stroke="#C4D2D2" stroke-width="0.35"/><g transform="rotate(-16 23 38)" font-family="Liberation Sans, Arial, sans-serif" font-weight="bold" fill="#16224F" stroke="#16224F"><text x="17.4" y="38" font-size="4.4" stroke-width="0.3" letter-spacing="-0.2">WE</text><text x="25.8" y="38.5" font-size="7.4" fill="#CF2436" stroke="#CF2436" stroke-width="0.3">♥</text><text x="11" y="41.9" font-size="2.7" stroke-width="0.35" textLength="24" lengthAdjust="spacingAndGlyphs">OUR CUSTOMERS</text></g></g></svg>
</div>
<div class="tile t" style="left:203.00px;top:293.25px"><span>24A</span><svg viewBox="0 0 46.3 53"><path d="M22.7 29.1C21.7 26.8 20.2 24.4 21.5 22.6C22.9 21.1 25.9 21.4 26.1 23.9" fill="none" stroke="#98A2A2" stroke-width="0.8" stroke-linecap="round"/><g transform="translate(0 -0.6)"><path d="M23 30.5L39 36L38.4 38.7L9.3 47L7.6 45Z" fill="#6FAAA4" opacity="0.5"/><path d="M23 29.5L38.6 35L38.1 37.6L9 45.9L7.5 44.1Z" fill="#fff" stroke="#C4D2D2" stroke-width="0.35"/><g transform="rotate(-16 23 38)" font-family="Liberation Sans, Arial, sans-serif" font-weight="bold" fill="#16224F" stroke="#16224F"><text x="17.4" y="38" font-size="4.4" stroke-width="0.3" letter-spacing="-0.2">WE</text><text x="25.8" y="38.5" font-size="7.4" fill="#CF2436" stroke="#CF2436" stroke-width="0.3">♥</text><text x="11" y="41.9" font-size="2.7" stroke-width="0.35" textLength="24" lengthAdjust="spacingAndGlyphs">OUR CUSTOMERS</text></g></g></svg>
</div>
<div class="tile b" style="left:252.75px;top:293.25px"><span>29A</span><svg viewBox="0 0 46.3 53"><path d="M14 47.6L41 38.6L41.4 36L12 46Z" fill="#031238" opacity="0.5"/><path d="M10 32L36 25.9L40.7 34.5L39.8 37.6L15 46.2Q9 47.2 7.3 40.4Q6.4 34.4 10 32Z" fill="#F4F4F0"/><path d="M15 46.2L39.8 37.6L40.7 34.5L40 34.2L38.6 36.2L15.2 44.2Q11.5 45 9.6 42.6Q11 46.9 15 46.2Z" fill="#B5B5AE"/><path d="M36 25.9L40.7 34.5L39.8 37.6L37 36.6L35.2 27.2Z" fill="#D6D6D0"/><ellipse cx="11.9" cy="39.4" rx="4.3" ry="6.2" transform="rotate(-14 11.9 39.4)" fill="#E6E6E0" stroke="#C4C4BC" stroke-width="0.5"/><path d="M11.6 35.6Q14.3 36.6 14 39.6Q13.4 42.6 11.2 42.6Q9.6 41.4 10 39Q10.6 37.4 11.8 37.8Q12.6 38.6 12 39.8" fill="none" stroke="#9E9E98" stroke-width="0.55"/><g transform="rotate(-13.5 24 36)"><text x="16.2" y="32.9" font-family="Liberation Serif, Times, serif" font-weight="bold" font-size="3.6" fill="#6C6C70" stroke="#6C6C70" stroke-width="0.15" textLength="18.5" lengthAdjust="spacingAndGlyphs">THE TIMES</text><rect x="17.4" y="34.4" width="6.6" height="4.4" fill="#A79C94"/><rect x="17.4" y="39.4" width="6.6" height="0.7" fill="#BDBDB6"/><rect x="25.2" y="33.9" width="9.4" height="6.3" fill="#75502E"/><path d="M26.6 40.2L30 35.2L32.4 37.6L34.6 35.8V40.2Z" fill="#24150C"/><path d="M25.2 33.9H30L27 37.5L25.2 37Z" fill="#9A7448"/><rect x="35.4" y="34.2" width="2.4" height="4.6" fill="#C6C6BF"/></g></svg>
</div>
<div class="tile t" style="left:302.50px;top:293.25px"><span>36A</span><svg viewBox="0 0 46.3 53"><path d="M22.7 29.1C21.7 26.8 20.2 24.4 21.5 22.6C22.9 21.1 25.9 21.4 26.1 23.9" fill="none" stroke="#98A2A2" stroke-width="0.8" stroke-linecap="round"/><g transform="translate(0 -0.6)"><path d="M23 30.5L39 36L38.4 38.7L9.3 47L7.6 45Z" fill="#6FAAA4" opacity="0.5"/><path d="M23 29.5L38.6 35L38.1 37.6L9 45.9L7.5 44.1Z" fill="#fff" stroke="#C4D2D2" stroke-width="0.35"/><g transform="rotate(-16 23 38)" font-family="Liberation Sans, Arial, sans-serif" font-weight="bold" fill="#16224F" stroke="#16224F"><text x="17.4" y="38" font-size="4.4" stroke-width="0.3" letter-spacing="-0.2">WE</text><text x="25.8" y="38.5" font-size="7.4" fill="#CF2436" stroke="#CF2436" stroke-width="0.3">♥</text><text x="11" y="41.9" font-size="2.7" stroke-width="0.35" textLength="24" lengthAdjust="spacingAndGlyphs">OUR CUSTOMERS</text></g></g></svg>
</div>
<div class="tile t" style="left:352.25px;top:293.25px"><span>40B</span><svg viewBox="0 0 46.3 53"><path d="M22.7 29.1C21.7 26.8 20.2 24.4 21.5 22.6C22.9 21.1 25.9 21.4 26.1 23.9" fill="none" stroke="#98A2A2" stroke-width="0.8" stroke-linecap="round"/><g transform="translate(0 -0.6)"><path d="M23 30.5L39 36L38.4 38.7L9.3 47L7.6 45Z" fill="#6FAAA4" opacity="0.5"/><path d="M23 29.5L38.6 35L38.1 37.6L9 45.9L7.5 44.1Z" fill="#fff" stroke="#C4D2D2" stroke-width="0.35"/><g transform="rotate(-16 23 38)" font-family="Liberation Sans, Arial, sans-serif" font-weight="bold" fill="#16224F" stroke="#16224F"><text x="17.4" y="38" font-size="4.4" stroke-width="0.3" letter-spacing="-0.2">WE</text><text x="25.8" y="38.5" font-size="7.4" fill="#CF2436" stroke="#CF2436" stroke-width="0.3">♥</text><text x="11" y="41.9" font-size="2.7" stroke-width="0.35" textLength="24" lengthAdjust="spacingAndGlyphs">OUR CUSTOMERS</text></g></g></svg>
</div>
<div class="tile l" style="left:402.00px;top:293.25px"><span>44B</span><svg viewBox="0 0 46.3 53"><ellipse cx="23.2" cy="45.4" rx="11.4" ry="2.2" fill="#B06A20" opacity="0.25"/><path d="M12 25.9L23.5 22.4L35 26.6L21.9 29.9Z" fill="#F4E5BC" stroke="#E6D29A" stroke-width="0.3"/><path d="M12 25.9L21.9 29.9L22 46.6L12.3 43.1Z" fill="url(#fL)"/><path d="M21.9 29.9L35 26.6L34.7 43.2L22 46.6Z" fill="url(#fR)"/><path d="M27.3 28.5L29.3 28L29.2 38L27.3 38Z" fill="#F1DFAC"/><path d="M16.8 24.4L18.8 23.8L29.8 27.9L27.6 28.5Z" fill="#FBF1D6" opacity="0.8"/><path d="M13.8 37.5L20.2 39.6L20.3 43.4L13.9 41.2Z" fill="#A88640" opacity="0.7"/><rect x="20.6" y="37.5" width="17.8" height="7" fill="#fff"/><text x="21.6" y="43.4" font-family="Liberation Sans, Arial, sans-serif" font-weight="bold" font-size="6.6" letter-spacing="-0.6" fill="#33248A" stroke="#33248A" stroke-width="0.25">Fed<tspan fill="#EA621A" stroke="#EA621A">Ex</tspan></text></svg>
</div>
<div class="tile t" style="left:4.00px;top:351.12px"><span>3B</span><svg viewBox="0 0 46.3 53"><path d="M22.7 29.1C21.7 26.8 20.2 24.4 21.5 22.6C22.9 21.1 25.9 21.4 26.1 23.9" fill="none" stroke="#98A2A2" stroke-width="0.8" stroke-linecap="round"/><g transform="translate(0 -0.6)"><path d="M23 30.5L39 36L38.4 38.7L9.3 47L7.6 45Z" fill="#6FAAA4" opacity="0.5"/><path d="M23 29.5L38.6 35L38.1 37.6L9 45.9L7.5 44.1Z" fill="#fff" stroke="#C4D2D2" stroke-width="0.35"/><g transform="rotate(-16 23 38)" font-family="Liberation Sans, Arial, sans-serif" font-weight="bold" fill="#16224F" stroke="#16224F"><text x="17.4" y="38" font-size="4.4" stroke-width="0.3" letter-spacing="-0.2">WE</text><text x="25.8" y="38.5" font-size="7.4" fill="#CF2436" stroke="#CF2436" stroke-width="0.3">♥</text><text x="11" y="41.9" font-size="2.7" stroke-width="0.35" textLength="24" lengthAdjust="spacingAndGlyphs">OUR CUSTOMERS</text></g></g></svg>
</div>
<div class="tile o" style="left:53.75px;top:351.12px"><span>7D</span><svg viewBox="0 0 46.3 53"><ellipse cx="23.2" cy="45.6" rx="11.4" ry="2.4" fill="#6A3208" opacity="0.28"/><path d="M12 25.9L24.6 22L34.6 26.4L21.9 29.9Z" fill="#F6E9C2" stroke="#E8D6A0" stroke-width="0.3"/><path d="M12 25.9L21.9 29.9L22.4 47L12.4 43.2Z" fill="url(#uL)"/><path d="M21.9 29.9L34.6 26.4L34.3 43.6L22.4 47Z" fill="url(#uR)"/><path d="M27.3 28.4L29.2 27.9L29.1 35L27.3 35.4Z" fill="#F3E3B2"/><path d="M17.4 23.9L19.4 23.4L29.6 27.6L27.4 28.3Z" fill="#FBF3DA" opacity="0.8"/><path d="M13.8 37.3L20.2 39.6L20.3 43.6L13.9 41.3Z" fill="#9F7C38" opacity="0.75"/><path d="M24 35.4Q28.8 33.9 33.6 35.4L33.6 43.5Q33.3 45.9 28.8 47.5Q24.3 45.9 24 43.5Z" fill="#D9A23A"/><path d="M24.6 36Q28.8 34.7 33 36L33 43.4Q32.7 45.4 28.8 46.8Q24.9 45.4 24.6 43.4Z" fill="#3A1C06"/><path d="M25.2 36.5Q28.8 35.5 32.4 36.5L32.4 38.2Q28.6 37.4 25.2 39.6Z" fill="#7A4414"/><text x="28.8" y="43.6" text-anchor="middle" font-family="Liberation Sans, Arial, sans-serif" font-weight="bold" font-size="5.6" fill="#F0AA28" stroke="#F0AA28" stroke-width="0.25" letter-spacing="-0.45">ups</text></svg>
</div>
<div class="tile l" style="left:103.50px;top:351.12px"><span>12A</span><svg viewBox="0 0 46.3 53"><ellipse cx="23.2" cy="45.4" rx="11.4" ry="2.2" fill="#B06A20" opacity="0.25"/><path d="M12 25.9L23.5 22.4L35 26.6L21.9 29.9Z" fill="#F4E5BC" stroke="#E6D29A" stroke-width="0.3"/><path d="M12 25.9L21.9 29.9L22 46.6L12.3 43.1Z" fill="url(#fL)"/><path d="M21.9 29.9L35 26.6L34.7 43.2L22 46.6Z" fill="url(#fR)"/><path d="M27.3 28.5L29.3 28L29.2 38L27.3 38Z" fill="#F1DFAC"/><path d="M16.8 24.4L18.8 23.8L29.8 27.9L27.6 28.5Z" fill="#FBF1D6" opacity="0.8"/><path d="M13.8 37.5L20.2 39.6L20.3 43.4L13.9 41.2Z" fill="#A88640" opacity="0.7"/><rect x="20.6" y="37.5" width="17.8" height="7" fill="#fff"/><text x="21.6" y="43.4" font-family="Liberation Sans, Arial, sans-serif" font-weight="bold" font-size="6.6" letter-spacing="-0.6" fill="#33248A" stroke="#33248A" stroke-width="0.25">Fed<tspan fill="#EA621A" stroke="#EA621A">Ex</tspan></text></svg>
</div>
<div class="tile o" style="left:153.25px;top:351.12px"><span>20D</span><svg viewBox="0 0 46.3 53"><ellipse cx="23.2" cy="45.6" rx="11.4" ry="2.4" fill="#6A3208" opacity="0.28"/><path d="M12 25.9L24.6 22L34.6 26.4L21.9 29.9Z" fill="#F6E9C2" stroke="#E8D6A0" stroke-width="0.3"/><path d="M12 25.9L21.9 29.9L22.4 47L12.4 43.2Z" fill="url(#uL)"/><path d="M21.9 29.9L34.6 26.4L34.3 43.6L22.4 47Z" fill="url(#uR)"/><path d="M27.3 28.4L29.2 27.9L29.1 35L27.3 35.4Z" fill="#F3E3B2"/><path d="M17.4 23.9L19.4 23.4L29.6 27.6L27.4 28.3Z" fill="#FBF3DA" opacity="0.8"/><path d="M13.8 37.3L20.2 39.6L20.3 43.6L13.9 41.3Z" fill="#9F7C38" opacity="0.75"/><path d="M24 35.4Q28.8 33.9 33.6 35.4L33.6 43.5Q33.3 45.9 28.8 47.5Q24.3 45.9 24 43.5Z" fill="#D9A23A"/><path d="M24.6 36Q28.8 34.7 33 36L33 43.4Q32.7 45.4 28.8 46.8Q24.9 45.4 24.6 43.4Z" fill="#3A1C06"/><path d="M25.2 36.5Q28.8 35.5 32.4 36.5L32.4 38.2Q28.6 37.4 25.2 39.6Z" fill="#7A4414"/><text x="28.8" y="43.6" text-anchor="middle" font-family="Liberation Sans, Arial, sans-serif" font-weight="bold" font-size="5.6" fill="#F0AA28" stroke="#F0AA28" stroke-width="0.25" letter-spacing="-0.45">ups</text></svg>
</div>
<div class="tile t" style="left:203.00px;top:351.12px"><span>24C</span><svg viewBox="0 0 46.3 53"><path d="M22.7 29.1C21.7 26.8 20.2 24.4 21.5 22.6C22.9 21.1 25.9 21.4 26.1 23.9" fill="none" stroke="#98A2A2" stroke-width="0.8" stroke-linecap="round"/><g transform="translate(0 -0.6)"><path d="M23 30.5L39 36L38.4 38.7L9.3 47L7.6 45Z" fill="#6FAAA4" opacity="0.5"/><path d="M23 29.5L38.6 35L38.1 37.6L9 45.9L7.5 44.1Z" fill="#fff" stroke="#C4D2D2" stroke-width="0.35"/><g transform="rotate(-16 23 38)" font-family="Liberation Sans, Arial, sans-serif" font-weight="bold" fill="#16224F" stroke="#16224F"><text x="17.4" y="38" font-size="4.4" stroke-width="0.3" letter-spacing="-0.2">WE</text><text x="25.8" y="38.5" font-size="7.4" fill="#CF2436" stroke="#CF2436" stroke-width="0.3">♥</text><text x="11" y="41.9" font-size="2.7" stroke-width="0.35" textLength="24" lengthAdjust="spacingAndGlyphs">OUR CUSTOMERS</text></g></g></svg>
</div>
<div class="tile t" style="left:252.75px;top:351.12px"><span>30A</span><svg viewBox="0 0 46.3 53"><path d="M22.7 29.1C21.7 26.8 20.2 24.4 21.5 22.6C22.9 21.1 25.9 21.4 26.1 23.9" fill="none" stroke="#98A2A2" stroke-width="0.8" stroke-linecap="round"/><g transform="translate(0 -0.6)"><path d="M23 30.5L39 36L38.4 38.7L9.3 47L7.6 45Z" fill="#6FAAA4" opacity="0.5"/><path d="M23 29.5L38.6 35L38.1 37.6L9 45.9L7.5 44.1Z" fill="#fff" stroke="#C4D2D2" stroke-width="0.35"/><g transform="rotate(-16 23 38)" font-family="Liberation Sans, Arial, sans-serif" font-weight="bold" fill="#16224F" stroke="#16224F"><text x="17.4" y="38" font-size="4.4" stroke-width="0.3" letter-spacing="-0.2">WE</text><text x="25.8" y="38.5" font-size="7.4" fill="#CF2436" stroke="#CF2436" stroke-width="0.3">♥</text><text x="11" y="41.9" font-size="2.7" stroke-width="0.35" textLength="24" lengthAdjust="spacingAndGlyphs">OUR CUSTOMERS</text></g></g></svg>
</div>
<div class="tile o" style="left:302.50px;top:351.12px"><span>37A</span><svg viewBox="0 0 46.3 53"><ellipse cx="23.2" cy="45.6" rx="11.4" ry="2.4" fill="#6A3208" opacity="0.28"/><path d="M12 25.9L24.6 22L34.6 26.4L21.9 29.9Z" fill="#F6E9C2" stroke="#E8D6A0" stroke-width="0.3"/><path d="M12 25.9L21.9 29.9L22.4 47L12.4 43.2Z" fill="url(#uL)"/><path d="M21.9 29.9L34.6 26.4L34.3 43.6L22.4 47Z" fill="url(#uR)"/><path d="M27.3 28.4L29.2 27.9L29.1 35L27.3 35.4Z" fill="#F3E3B2"/><path d="M17.4 23.9L19.4 23.4L29.6 27.6L27.4 28.3Z" fill="#FBF3DA" opacity="0.8"/><path d="M13.8 37.3L20.2 39.6L20.3 43.6L13.9 41.3Z" fill="#9F7C38" opacity="0.75"/><path d="M24 35.4Q28.8 33.9 33.6 35.4L33.6 43.5Q33.3 45.9 28.8 47.5Q24.3 45.9 24 43.5Z" fill="#D9A23A"/><path d="M24.6 36Q28.8 34.7 33 36L33 43.4Q32.7 45.4 28.8 46.8Q24.9 45.4 24.6 43.4Z" fill="#3A1C06"/><path d="M25.2 36.5Q28.8 35.5 32.4 36.5L32.4 38.2Q28.6 37.4 25.2 39.6Z" fill="#7A4414"/><text x="28.8" y="43.6" text-anchor="middle" font-family="Liberation Sans, Arial, sans-serif" font-weight="bold" font-size="5.6" fill="#F0AA28" stroke="#F0AA28" stroke-width="0.25" letter-spacing="-0.45">ups</text></svg>
</div>
<div class="tile l" style="left:352.25px;top:351.12px"><span>40C</span><svg viewBox="0 0 46.3 53"><ellipse cx="23.2" cy="45.4" rx="11.4" ry="2.2" fill="#B06A20" opacity="0.25"/><path d="M12 25.9L23.5 22.4L35 26.6L21.9 29.9Z" fill="#F4E5BC" stroke="#E6D29A" stroke-width="0.3"/><path d="M12 25.9L21.9 29.9L22 46.6L12.3 43.1Z" fill="url(#fL)"/><path d="M21.9 29.9L35 26.6L34.7 43.2L22 46.6Z" fill="url(#fR)"/><path d="M27.3 28.5L29.3 28L29.2 38L27.3 38Z" fill="#F1DFAC"/><path d="M16.8 24.4L18.8 23.8L29.8 27.9L27.6 28.5Z" fill="#FBF1D6" opacity="0.8"/><path d="M13.8 37.5L20.2 39.6L20.3 43.4L13.9 41.2Z" fill="#A88640" opacity="0.7"/><rect x="20.6" y="37.5" width="17.8" height="7" fill="#fff"/><text x="21.6" y="43.4" font-family="Liberation Sans, Arial, sans-serif" font-weight="bold" font-size="6.6" letter-spacing="-0.6" fill="#33248A" stroke="#33248A" stroke-width="0.25">Fed<tspan fill="#EA621A" stroke="#EA621A">Ex</tspan></text></svg>
</div>
<div class="tile l" style="left:402.00px;top:351.12px"><span>45A</span><svg viewBox="0 0 46.3 53"><ellipse cx="23.2" cy="45.4" rx="11.4" ry="2.2" fill="#B06A20" opacity="0.25"/><path d="M12 25.9L23.5 22.4L35 26.6L21.9 29.9Z" fill="#F4E5BC" stroke="#E6D29A" stroke-width="0.3"/><path d="M12 25.9L21.9 29.9L22 46.6L12.3 43.1Z" fill="url(#fL)"/><path d="M21.9 29.9L35 26.6L34.7 43.2L22 46.6Z" fill="url(#fR)"/><path d="M27.3 28.5L29.3 28L29.2 38L27.3 38Z" fill="#F1DFAC"/><path d="M16.8 24.4L18.8 23.8L29.8 27.9L27.6 28.5Z" fill="#FBF1D6" opacity="0.8"/><path d="M13.8 37.5L20.2 39.6L20.3 43.4L13.9 41.2Z" fill="#A88640" opacity="0.7"/><rect x="20.6" y="37.5" width="17.8" height="7" fill="#fff"/><text x="21.6" y="43.4" font-family="Liberation Sans, Arial, sans-serif" font-weight="bold" font-size="6.6" letter-spacing="-0.6" fill="#33248A" stroke="#33248A" stroke-width="0.25">Fed<tspan fill="#EA621A" stroke="#EA621A">Ex</tspan></text></svg>
</div>
<div class="tile b" style="left:4.00px;top:408.99px"><span>3D</span><svg viewBox="0 0 46.3 53"><path d="M14 47.6L41 38.6L41.4 36L12 46Z" fill="#031238" opacity="0.5"/><path d="M10 32L36 25.9L40.7 34.5L39.8 37.6L15 46.2Q9 47.2 7.3 40.4Q6.4 34.4 10 32Z" fill="#F4F4F0"/><path d="M15 46.2L39.8 37.6L40.7 34.5L40 34.2L38.6 36.2L15.2 44.2Q11.5 45 9.6 42.6Q11 46.9 15 46.2Z" fill="#B5B5AE"/><path d="M36 25.9L40.7 34.5L39.8 37.6L37 36.6L35.2 27.2Z" fill="#D6D6D0"/><ellipse cx="11.9" cy="39.4" rx="4.3" ry="6.2" transform="rotate(-14 11.9 39.4)" fill="#E6E6E0" stroke="#C4C4BC" stroke-width="0.5"/><path d="M11.6 35.6Q14.3 36.6 14 39.6Q13.4 42.6 11.2 42.6Q9.6 41.4 10 39Q10.6 37.4 11.8 37.8Q12.6 38.6 12 39.8" fill="none" stroke="#9E9E98" stroke-width="0.55"/><g transform="rotate(-13.5 24 36)"><text x="16.2" y="32.9" font-family="Liberation Serif, Times, serif" font-weight="bold" font-size="3.6" fill="#6C6C70" stroke="#6C6C70" stroke-width="0.15" textLength="18.5" lengthAdjust="spacingAndGlyphs">THE TIMES</text><rect x="17.4" y="34.4" width="6.6" height="4.4" fill="#A79C94"/><rect x="17.4" y="39.4" width="6.6" height="0.7" fill="#BDBDB6"/><rect x="25.2" y="33.9" width="9.4" height="6.3" fill="#75502E"/><path d="M26.6 40.2L30 35.2L32.4 37.6L34.6 35.8V40.2Z" fill="#24150C"/><path d="M25.2 33.9H30L27 37.5L25.2 37Z" fill="#9A7448"/><rect x="35.4" y="34.2" width="2.4" height="4.6" fill="#C6C6BF"/></g></svg>
</div>
<div class="tile l" style="left:53.75px;top:408.99px"><span>8A</span><svg viewBox="0 0 46.3 53"><ellipse cx="23.2" cy="45.4" rx="11.4" ry="2.2" fill="#B06A20" opacity="0.25"/><path d="M12 25.9L23.5 22.4L35 26.6L21.9 29.9Z" fill="#F4E5BC" stroke="#E6D29A" stroke-width="0.3"/><path d="M12 25.9L21.9 29.9L22 46.6L12.3 43.1Z" fill="url(#fL)"/><path d="M21.9 29.9L35 26.6L34.7 43.2L22 46.6Z" fill="url(#fR)"/><path d="M27.3 28.5L29.3 28L29.2 38L27.3 38Z" fill="#F1DFAC"/><path d="M16.8 24.4L18.8 23.8L29.8 27.9L27.6 28.5Z" fill="#FBF1D6" opacity="0.8"/><path d="M13.8 37.5L20.2 39.6L20.3 43.4L13.9 41.2Z" fill="#A88640" opacity="0.7"/><rect x="20.6" y="37.5" width="17.8" height="7" fill="#fff"/><text x="21.6" y="43.4" font-family="Liberation Sans, Arial, sans-serif" font-weight="bold" font-size="6.6" letter-spacing="-0.6" fill="#33248A" stroke="#33248A" stroke-width="0.25">Fed<tspan fill="#EA621A" stroke="#EA621A">Ex</tspan></text></svg>
</div>
<div class="tile o" style="left:103.50px;top:408.99px"><span>12B</span><svg viewBox="0 0 46.3 53"><ellipse cx="23.2" cy="45.6" rx="11.4" ry="2.4" fill="#6A3208" opacity="0.28"/><path d="M12 25.9L24.6 22L34.6 26.4L21.9 29.9Z" fill="#F6E9C2" stroke="#E8D6A0" stroke-width="0.3"/><path d="M12 25.9L21.9 29.9L22.4 47L12.4 43.2Z" fill="url(#uL)"/><path d="M21.9 29.9L34.6 26.4L34.3 43.6L22.4 47Z" fill="url(#uR)"/><path d="M27.3 28.4L29.2 27.9L29.1 35L27.3 35.4Z" fill="#F3E3B2"/><path d="M17.4 23.9L19.4 23.4L29.6 27.6L27.4 28.3Z" fill="#FBF3DA" opacity="0.8"/><path d="M13.8 37.3L20.2 39.6L20.3 43.6L13.9 41.3Z" fill="#9F7C38" opacity="0.75"/><path d="M24 35.4Q28.8 33.9 33.6 35.4L33.6 43.5Q33.3 45.9 28.8 47.5Q24.3 45.9 24 43.5Z" fill="#D9A23A"/><path d="M24.6 36Q28.8 34.7 33 36L33 43.4Q32.7 45.4 28.8 46.8Q24.9 45.4 24.6 43.4Z" fill="#3A1C06"/><path d="M25.2 36.5Q28.8 35.5 32.4 36.5L32.4 38.2Q28.6 37.4 25.2 39.6Z" fill="#7A4414"/><text x="28.8" y="43.6" text-anchor="middle" font-family="Liberation Sans, Arial, sans-serif" font-weight="bold" font-size="5.6" fill="#F0AA28" stroke="#F0AA28" stroke-width="0.25" letter-spacing="-0.45">ups</text></svg>
</div>
<div class="tile l" style="left:153.25px;top:408.99px"><span>20D</span><svg viewBox="0 0 46.3 53"><ellipse cx="23.2" cy="45.4" rx="11.4" ry="2.2" fill="#B06A20" opacity="0.25"/><path d="M12 25.9L23.5 22.4L35 26.6L21.9 29.9Z" fill="#F4E5BC" stroke="#E6D29A" stroke-width="0.3"/><path d="M12 25.9L21.9 29.9L22 46.6L12.3 43.1Z" fill="url(#fL)"/><path d="M21.9 29.9L35 26.6L34.7 43.2L22 46.6Z" fill="url(#fR)"/><path d="M27.3 28.5L29.3 28L29.2 38L27.3 38Z" fill="#F1DFAC"/><path d="M16.8 24.4L18.8 23.8L29.8 27.9L27.6 28.5Z" fill="#FBF1D6" opacity="0.8"/><path d="M13.8 37.5L20.2 39.6L20.3 43.4L13.9 41.2Z" fill="#A88640" opacity="0.7"/><rect x="20.6" y="37.5" width="17.8" height="7" fill="#fff"/><text x="21.6" y="43.4" font-family="Liberation Sans, Arial, sans-serif" font-weight="bold" font-size="6.6" letter-spacing="-0.6" fill="#33248A" stroke="#33248A" stroke-width="0.25">Fed<tspan fill="#EA621A" stroke="#EA621A">Ex</tspan></text></svg>
</div>
<div class="tile o" style="left:203.00px;top:408.99px"><span>24D</span><svg viewBox="0 0 46.3 53"><ellipse cx="23.2" cy="45.6" rx="11.4" ry="2.4" fill="#6A3208" opacity="0.28"/><path d="M12 25.9L24.6 22L34.6 26.4L21.9 29.9Z" fill="#F6E9C2" stroke="#E8D6A0" stroke-width="0.3"/><path d="M12 25.9L21.9 29.9L22.4 47L12.4 43.2Z" fill="url(#uL)"/><path d="M21.9 29.9L34.6 26.4L34.3 43.6L22.4 47Z" fill="url(#uR)"/><path d="M27.3 28.4L29.2 27.9L29.1 35L27.3 35.4Z" fill="#F3E3B2"/><path d="M17.4 23.9L19.4 23.4L29.6 27.6L27.4 28.3Z" fill="#FBF3DA" opacity="0.8"/><path d="M13.8 37.3L20.2 39.6L20.3 43.6L13.9 41.3Z" fill="#9F7C38" opacity="0.75"/><path d="M24 35.4Q28.8 33.9 33.6 35.4L33.6 43.5Q33.3 45.9 28.8 47.5Q24.3 45.9 24 43.5Z" fill="#D9A23A"/><path d="M24.6 36Q28.8 34.7 33 36L33 43.4Q32.7 45.4 28.8 46.8Q24.9 45.4 24.6 43.4Z" fill="#3A1C06"/><path d="M25.2 36.5Q28.8 35.5 32.4 36.5L32.4 38.2Q28.6 37.4 25.2 39.6Z" fill="#7A4414"/><text x="28.8" y="43.6" text-anchor="middle" font-family="Liberation Sans, Arial, sans-serif" font-weight="bold" font-size="5.6" fill="#F0AA28" stroke="#F0AA28" stroke-width="0.25" letter-spacing="-0.45">ups</text></svg>
</div>
<div class="tile b" style="left:252.75px;top:408.99px"><span>31B</span><svg viewBox="0 0 46.3 53"><path d="M14 47.6L41 38.6L41.4 36L12 46Z" fill="#031238" opacity="0.5"/><path d="M10 32L36 25.9L40.7 34.5L39.8 37.6L15 46.2Q9 47.2 7.3 40.4Q6.4 34.4 10 32Z" fill="#F4F4F0"/><path d="M15 46.2L39.8 37.6L40.7 34.5L40 34.2L38.6 36.2L15.2 44.2Q11.5 45 9.6 42.6Q11 46.9 15 46.2Z" fill="#B5B5AE"/><path d="M36 25.9L40.7 34.5L39.8 37.6L37 36.6L35.2 27.2Z" fill="#D6D6D0"/><ellipse cx="11.9" cy="39.4" rx="4.3" ry="6.2" transform="rotate(-14 11.9 39.4)" fill="#E6E6E0" stroke="#C4C4BC" stroke-width="0.5"/><path d="M11.6 35.6Q14.3 36.6 14 39.6Q13.4 42.6 11.2 42.6Q9.6 41.4 10 39Q10.6 37.4 11.8 37.8Q12.6 38.6 12 39.8" fill="none" stroke="#9E9E98" stroke-width="0.55"/><g transform="rotate(-13.5 24 36)"><text x="16.2" y="32.9" font-family="Liberation Serif, Times, serif" font-weight="bold" font-size="3.6" fill="#6C6C70" stroke="#6C6C70" stroke-width="0.15" textLength="18.5" lengthAdjust="spacingAndGlyphs">THE TIMES</text><rect x="17.4" y="34.4" width="6.6" height="4.4" fill="#A79C94"/><rect x="17.4" y="39.4" width="6.6" height="0.7" fill="#BDBDB6"/><rect x="25.2" y="33.9" width="9.4" height="6.3" fill="#75502E"/><path d="M26.6 40.2L30 35.2L32.4 37.6L34.6 35.8V40.2Z" fill="#24150C"/><path d="M25.2 33.9H30L27 37.5L25.2 37Z" fill="#9A7448"/><rect x="35.4" y="34.2" width="2.4" height="4.6" fill="#C6C6BF"/></g></svg>
</div>
<div class="tile l" style="left:302.50px;top:408.99px"><span>37B</span><svg viewBox="0 0 46.3 53"><ellipse cx="23.2" cy="45.4" rx="11.4" ry="2.2" fill="#B06A20" opacity="0.25"/><path d="M12 25.9L23.5 22.4L35 26.6L21.9 29.9Z" fill="#F4E5BC" stroke="#E6D29A" stroke-width="0.3"/><path d="M12 25.9L21.9 29.9L22 46.6L12.3 43.1Z" fill="url(#fL)"/><path d="M21.9 29.9L35 26.6L34.7 43.2L22 46.6Z" fill="url(#fR)"/><path d="M27.3 28.5L29.3 28L29.2 38L27.3 38Z" fill="#F1DFAC"/><path d="M16.8 24.4L18.8 23.8L29.8 27.9L27.6 28.5Z" fill="#FBF1D6" opacity="0.8"/><path d="M13.8 37.5L20.2 39.6L20.3 43.4L13.9 41.2Z" fill="#A88640" opacity="0.7"/><rect x="20.6" y="37.5" width="17.8" height="7" fill="#fff"/><text x="21.6" y="43.4" font-family="Liberation Sans, Arial, sans-serif" font-weight="bold" font-size="6.6" letter-spacing="-0.6" fill="#33248A" stroke="#33248A" stroke-width="0.25">Fed<tspan fill="#EA621A" stroke="#EA621A">Ex</tspan></text></svg>
</div>
<div class="tile o" style="left:352.25px;top:408.99px"><span>41A</span><svg viewBox="0 0 46.3 53"><ellipse cx="23.2" cy="45.6" rx="11.4" ry="2.4" fill="#6A3208" opacity="0.28"/><path d="M12 25.9L24.6 22L34.6 26.4L21.9 29.9Z" fill="#F6E9C2" stroke="#E8D6A0" stroke-width="0.3"/><path d="M12 25.9L21.9 29.9L22.4 47L12.4 43.2Z" fill="url(#uL)"/><path d="M21.9 29.9L34.6 26.4L34.3 43.6L22.4 47Z" fill="url(#uR)"/><path d="M27.3 28.4L29.2 27.9L29.1 35L27.3 35.4Z" fill="#F3E3B2"/><path d="M17.4 23.9L19.4 23.4L29.6 27.6L27.4 28.3Z" fill="#FBF3DA" opacity="0.8"/><path d="M13.8 37.3L20.2 39.6L20.3 43.6L13.9 41.3Z" fill="#9F7C38" opacity="0.75"/><path d="M24 35.4Q28.8 33.9 33.6 35.4L33.6 43.5Q33.3 45.9 28.8 47.5Q24.3 45.9 24 43.5Z" fill="#D9A23A"/><path d="M24.6 36Q28.8 34.7 33 36L33 43.4Q32.7 45.4 28.8 46.8Q24.9 45.4 24.6 43.4Z" fill="#3A1C06"/><path d="M25.2 36.5Q28.8 35.5 32.4 36.5L32.4 38.2Q28.6 37.4 25.2 39.6Z" fill="#7A4414"/><text x="28.8" y="43.6" text-anchor="middle" font-family="Liberation Sans, Arial, sans-serif" font-weight="bold" font-size="5.6" fill="#F0AA28" stroke="#F0AA28" stroke-width="0.25" letter-spacing="-0.45">ups</text></svg>
</div>
<div class="tile t" style="left:402.00px;top:408.99px"><span>46A</span><svg viewBox="0 0 46.3 53"><path d="M22.7 29.1C21.7 26.8 20.2 24.4 21.5 22.6C22.9 21.1 25.9 21.4 26.1 23.9" fill="none" stroke="#98A2A2" stroke-width="0.8" stroke-linecap="round"/><g transform="translate(0 -0.6)"><path d="M23 30.5L39 36L38.4 38.7L9.3 47L7.6 45Z" fill="#6FAAA4" opacity="0.5"/><path d="M23 29.5L38.6 35L38.1 37.6L9 45.9L7.5 44.1Z" fill="#fff" stroke="#C4D2D2" stroke-width="0.35"/><g transform="rotate(-16 23 38)" font-family="Liberation Sans, Arial, sans-serif" font-weight="bold" fill="#16224F" stroke="#16224F"><text x="17.4" y="38" font-size="4.4" stroke-width="0.3" letter-spacing="-0.2">WE</text><text x="25.8" y="38.5" font-size="7.4" fill="#CF2436" stroke="#CF2436" stroke-width="0.3">♥</text><text x="11" y="41.9" font-size="2.7" stroke-width="0.35" textLength="24" lengthAdjust="spacingAndGlyphs">OUR CUSTOMERS</text></g></g></svg>
</div>
<div class="tile l" style="left:4.00px;top:466.86px"><span>5A</span><svg viewBox="0 0 46.3 53"><ellipse cx="23.2" cy="45.4" rx="11.4" ry="2.2" fill="#B06A20" opacity="0.25"/><path d="M12 25.9L23.5 22.4L35 26.6L21.9 29.9Z" fill="#F4E5BC" stroke="#E6D29A" stroke-width="0.3"/><path d="M12 25.9L21.9 29.9L22 46.6L12.3 43.1Z" fill="url(#fL)"/><path d="M21.9 29.9L35 26.6L34.7 43.2L22 46.6Z" fill="url(#fR)"/><path d="M27.3 28.5L29.3 28L29.2 38L27.3 38Z" fill="#F1DFAC"/><path d="M16.8 24.4L18.8 23.8L29.8 27.9L27.6 28.5Z" fill="#FBF1D6" opacity="0.8"/><path d="M13.8 37.5L20.2 39.6L20.3 43.4L13.9 41.2Z" fill="#A88640" opacity="0.7"/><rect x="20.6" y="37.5" width="17.8" height="7" fill="#fff"/><text x="21.6" y="43.4" font-family="Liberation Sans, Arial, sans-serif" font-weight="bold" font-size="6.6" letter-spacing="-0.6" fill="#33248A" stroke="#33248A" stroke-width="0.25">Fed<tspan fill="#EA621A" stroke="#EA621A">Ex</tspan></text></svg>
</div>
<div class="tile t" style="left:53.75px;top:466.86px"><span>9D</span><svg viewBox="0 0 46.3 53"><path d="M22.7 29.1C21.7 26.8 20.2 24.4 21.5 22.6C22.9 21.1 25.9 21.4 26.1 23.9" fill="none" stroke="#98A2A2" stroke-width="0.8" stroke-linecap="round"/><g transform="translate(0 -0.6)"><path d="M23 30.5L39 36L38.4 38.7L9.3 47L7.6 45Z" fill="#6FAAA4" opacity="0.5"/><path d="M23 29.5L38.6 35L38.1 37.6L9 45.9L7.5 44.1Z" fill="#fff" stroke="#C4D2D2" stroke-width="0.35"/><g transform="rotate(-16 23 38)" font-family="Liberation Sans, Arial, sans-serif" font-weight="bold" fill="#16224F" stroke="#16224F"><text x="17.4" y="38" font-size="4.4" stroke-width="0.3" letter-spacing="-0.2">WE</text><text x="25.8" y="38.5" font-size="7.4" fill="#CF2436" stroke="#CF2436" stroke-width="0.3">♥</text><text x="11" y="41.9" font-size="2.7" stroke-width="0.35" textLength="24" lengthAdjust="spacingAndGlyphs">OUR CUSTOMERS</text></g></g></svg>
</div>
<div class="tile b" style="left:103.50px;top:466.86px"><span>12B</span><svg viewBox="0 0 46.3 53"><path d="M14 47.6L41 38.6L41.4 36L12 46Z" fill="#031238" opacity="0.5"/><path d="M10 32L36 25.9L40.7 34.5L39.8 37.6L15 46.2Q9 47.2 7.3 40.4Q6.4 34.4 10 32Z" fill="#F4F4F0"/><path d="M15 46.2L39.8 37.6L40.7 34.5L40 34.2L38.6 36.2L15.2 44.2Q11.5 45 9.6 42.6Q11 46.9 15 46.2Z" fill="#B5B5AE"/><path d="M36 25.9L40.7 34.5L39.8 37.6L37 36.6L35.2 27.2Z" fill="#D6D6D0"/><ellipse cx="11.9" cy="39.4" rx="4.3" ry="6.2" transform="rotate(-14 11.9 39.4)" fill="#E6E6E0" stroke="#C4C4BC" stroke-width="0.5"/><path d="M11.6 35.6Q14.3 36.6 14 39.6Q13.4 42.6 11.2 42.6Q9.6 41.4 10 39Q10.6 37.4 11.8 37.8Q12.6 38.6 12 39.8" fill="none" stroke="#9E9E98" stroke-width="0.55"/><g transform="rotate(-13.5 24 36)"><text x="16.2" y="32.9" font-family="Liberation Serif, Times, serif" font-weight="bold" font-size="3.6" fill="#6C6C70" stroke="#6C6C70" stroke-width="0.15" textLength="18.5" lengthAdjust="spacingAndGlyphs">THE TIMES</text><rect x="17.4" y="34.4" width="6.6" height="4.4" fill="#A79C94"/><rect x="17.4" y="39.4" width="6.6" height="0.7" fill="#BDBDB6"/><rect x="25.2" y="33.9" width="9.4" height="6.3" fill="#75502E"/><path d="M26.6 40.2L30 35.2L32.4 37.6L34.6 35.8V40.2Z" fill="#24150C"/><path d="M25.2 33.9H30L27 37.5L25.2 37Z" fill="#9A7448"/><rect x="35.4" y="34.2" width="2.4" height="4.6" fill="#C6C6BF"/></g></svg>
</div>
<div class="tile o" style="left:153.25px;top:466.86px"><span>21A</span><svg viewBox="0 0 46.3 53"><ellipse cx="23.2" cy="45.6" rx="11.4" ry="2.4" fill="#6A3208" opacity="0.28"/><path d="M12 25.9L24.6 22L34.6 26.4L21.9 29.9Z" fill="#F6E9C2" stroke="#E8D6A0" stroke-width="0.3"/><path d="M12 25.9L21.9 29.9L22.4 47L12.4 43.2Z" fill="url(#uL)"/><path d="M21.9 29.9L34.6 26.4L34.3 43.6L22.4 47Z" fill="url(#uR)"/><path d="M27.3 28.4L29.2 27.9L29.1 35L27.3 35.4Z" fill="#F3E3B2"/><path d="M17.4 23.9L19.4 23.4L29.6 27.6L27.4 28.3Z" fill="#FBF3DA" opacity="0.8"/><path d="M13.8 37.3L20.2 39.6L20.3 43.6L13.9 41.3Z" fill="#9F7C38" opacity="0.75"/><path d="M24 35.4Q28.8 33.9 33.6 35.4L33.6 43.5Q33.3 45.9 28.8 47.5Q24.3 45.9 24 43.5Z" fill="#D9A23A"/><path d="M24.6 36Q28.8 34.7 33 36L33 43.4Q32.7 45.4 28.8 46.8Q24.9 45.4 24.6 43.4Z" fill="#3A1C06"/><path d="M25.2 36.5Q28.8 35.5 32.4 36.5L32.4 38.2Q28.6 37.4 25.2 39.6Z" fill="#7A4414"/><text x="28.8" y="43.6" text-anchor="middle" font-family="Liberation Sans, Arial, sans-serif" font-weight="bold" font-size="5.6" fill="#F0AA28" stroke="#F0AA28" stroke-width="0.25" letter-spacing="-0.45">ups</text></svg>
</div>
<div class="tile t" style="left:203.00px;top:466.86px"><span>25A</span><svg viewBox="0 0 46.3 53"><path d="M22.7 29.1C21.7 26.8 20.2 24.4 21.5 22.6C22.9 21.1 25.9 21.4 26.1 23.9" fill="none" stroke="#98A2A2" stroke-width="0.8" stroke-linecap="round"/><g transform="translate(0 -0.6)"><path d="M23 30.5L39 36L38.4 38.7L9.3 47L7.6 45Z" fill="#6FAAA4" opacity="0.5"/><path d="M23 29.5L38.6 35L38.1 37.6L9 45.9L7.5 44.1Z" fill="#fff" stroke="#C4D2D2" stroke-width="0.35"/><g transform="rotate(-16 23 38)" font-family="Liberation Sans, Arial, sans-serif" font-weight="bold" fill="#16224F" stroke="#16224F"><text x="17.4" y="38" font-size="4.4" stroke-width="0.3" letter-spacing="-0.2">WE</text><text x="25.8" y="38.5" font-size="7.4" fill="#CF2436" stroke="#CF2436" stroke-width="0.3">♥</text><text x="11" y="41.9" font-size="2.7" stroke-width="0.35" textLength="24" lengthAdjust="spacingAndGlyphs">OUR CUSTOMERS</text></g></g></svg>
</div>
<div class="tile l" style="left:252.75px;top:466.86px"><span>32C</span><svg viewBox="0 0 46.3 53"><ellipse cx="23.2" cy="45.4" rx="11.4" ry="2.2" fill="#B06A20" opacity="0.25"/><path d="M12 25.9L23.5 22.4L35 26.6L21.9 29.9Z" fill="#F4E5BC" stroke="#E6D29A" stroke-width="0.3"/><path d="M12 25.9L21.9 29.9L22 46.6L12.3 43.1Z" fill="url(#fL)"/><path d="M21.9 29.9L35 26.6L34.7 43.2L22 46.6Z" fill="url(#fR)"/><path d="M27.3 28.5L29.3 28L29.2 38L27.3 38Z" fill="#F1DFAC"/><path d="M16.8 24.4L18.8 23.8L29.8 27.9L27.6 28.5Z" fill="#FBF1D6" opacity="0.8"/><path d="M13.8 37.5L20.2 39.6L20.3 43.4L13.9 41.2Z" fill="#A88640" opacity="0.7"/><rect x="20.6" y="37.5" width="17.8" height="7" fill="#fff"/><text x="21.6" y="43.4" font-family="Liberation Sans, Arial, sans-serif" font-weight="bold" font-size="6.6" letter-spacing="-0.6" fill="#33248A" stroke="#33248A" stroke-width="0.25">Fed<tspan fill="#EA621A" stroke="#EA621A">Ex</tspan></text></svg>
</div>
<div class="tile l" style="left:302.50px;top:466.86px"><span>37C</span><svg viewBox="0 0 46.3 53"><ellipse cx="23.2" cy="45.4" rx="11.4" ry="2.2" fill="#B06A20" opacity="0.25"/><path d="M12 25.9L23.5 22.4L35 26.6L21.9 29.9Z" fill="#F4E5BC" stroke="#E6D29A" stroke-width="0.3"/><path d="M12 25.9L21.9 29.9L22 46.6L12.3 43.1Z" fill="url(#fL)"/><path d="M21.9 29.9L35 26.6L34.7 43.2L22 46.6Z" fill="url(#fR)"/><path d="M27.3 28.5L29.3 28L29.2 38L27.3 38Z" fill="#F1DFAC"/><path d="M16.8 24.4L18.8 23.8L29.8 27.9L27.6 28.5Z" fill="#FBF1D6" opacity="0.8"/><path d="M13.8 37.5L20.2 39.6L20.3 43.4L13.9 41.2Z" fill="#A88640" opacity="0.7"/><rect x="20.6" y="37.5" width="17.8" height="7" fill="#fff"/><text x="21.6" y="43.4" font-family="Liberation Sans, Arial, sans-serif" font-weight="bold" font-size="6.6" letter-spacing="-0.6" fill="#33248A" stroke="#33248A" stroke-width="0.25">Fed<tspan fill="#EA621A" stroke="#EA621A">Ex</tspan></text></svg>
</div>
<div class="tile t" style="left:352.25px;top:466.86px"><span>41B</span><svg viewBox="0 0 46.3 53"><path d="M22.7 29.1C21.7 26.8 20.2 24.4 21.5 22.6C22.9 21.1 25.9 21.4 26.1 23.9" fill="none" stroke="#98A2A2" stroke-width="0.8" stroke-linecap="round"/><g transform="translate(0 -0.6)"><path d="M23 30.5L39 36L38.4 38.7L9.3 47L7.6 45Z" fill="#6FAAA4" opacity="0.5"/><path d="M23 29.5L38.6 35L38.1 37.6L9 45.9L7.5 44.1Z" fill="#fff" stroke="#C4D2D2" stroke-width="0.35"/><g transform="rotate(-16 23 38)" font-family="Liberation Sans, Arial, sans-serif" font-weight="bold" fill="#16224F" stroke="#16224F"><text x="17.4" y="38" font-size="4.4" stroke-width="0.3" letter-spacing="-0.2">WE</text><text x="25.8" y="38.5" font-size="7.4" fill="#CF2436" stroke="#CF2436" stroke-width="0.3">♥</text><text x="11" y="41.9" font-size="2.7" stroke-width="0.35" textLength="24" lengthAdjust="spacingAndGlyphs">OUR CUSTOMERS</text></g></g></svg>
</div>
<div class="tile l" style="left:402.00px;top:466.86px"><span>47C</span><svg viewBox="0 0 46.3 53"><ellipse cx="23.2" cy="45.4" rx="11.4" ry="2.2" fill="#B06A20" opacity="0.25"/><path d="M12 25.9L23.5 22.4L35 26.6L21.9 29.9Z" fill="#F4E5BC" stroke="#E6D29A" stroke-width="0.3"/><path d="M12 25.9L21.9 29.9L22 46.6L12.3 43.1Z" fill="url(#fL)"/><path d="M21.9 29.9L35 26.6L34.7 43.2L22 46.6Z" fill="url(#fR)"/><path d="M27.3 28.5L29.3 28L29.2 38L27.3 38Z" fill="#F1DFAC"/><path d="M16.8 24.4L18.8 23.8L29.8 27.9L27.6 28.5Z" fill="#FBF1D6" opacity="0.8"/><path d="M13.8 37.5L20.2 39.6L20.3 43.4L13.9 41.2Z" fill="#A88640" opacity="0.7"/><rect x="20.6" y="37.5" width="17.8" height="7" fill="#fff"/><text x="21.6" y="43.4" font-family="Liberation Sans, Arial, sans-serif" font-weight="bold" font-size="6.6" letter-spacing="-0.6" fill="#33248A" stroke="#33248A" stroke-width="0.25">Fed<tspan fill="#EA621A" stroke="#EA621A">Ex</tspan></text></svg>
</div>
</div>
<div class="panel" style="left:470px;top:10px;width:276px;height:271px">
<div class="ptitle" style="top:7.7px;left:-1.4px">Local Events</div>
<div class="ev" style="top:42px"><div class="th"><svg viewBox="0 0 51 32.5"><defs><radialGradient id="t1g" cx="0.45" cy="0.4" r="0.8"><stop offset="0" stop-color="#FFFBF0"/><stop offset="0.16" stop-color="#F6E6B8"/><stop offset="0.42" stop-color="#DAAC58"/><stop offset="0.72" stop-color="#B07424"/><stop offset="1" stop-color="#6A3A0E"/></radialGradient></defs><rect width="51" height="32.5" fill="url(#t1g)"/><rect x="0.4" y="0.4" width="50.2" height="31.7" fill="none" stroke="#6E4A2A" stroke-width="0.8" opacity="0.7"/><text x="25.5" y="7.2" text-anchor="middle" font-family="Liberation Sans, Arial, sans-serif" font-size="2.6" fill="#FBF3DC" opacity="0.5" letter-spacing="0.5">CIRQUE DU SOLEIL</text><g font-family="Liberation Sans, Arial, sans-serif" fill="#2C1E14" stroke="#2C1E14" stroke-width="0.25"><text transform="translate(6.3 20.6) scale(0.8 1)" font-size="9.5"><tspan font-size="7.5">Z</tspan><tspan dy="0.6">A</tspan><tspan dy="-1.2" font-size="11">R</tspan><tspan dy="0.8" font-size="12">K</tspan><tspan dy="-0.4" font-size="8.5">A</tspan><tspan font-size="8">N</tspan><tspan dy="0.3" font-size="9">A</tspan></text></g></svg></div><b>Cirque du Soleil: Zarkana</b><span class="pl">Town Hall</span><span class="dt">Tuesday 8, 8:00 PM</span></div>
<div class="ev" style="top:85px"><div class="th"><svg viewBox="0 0 51 32.5"><defs><linearGradient id="t2a" x1="0" y1="0" x2="1" y2="0"><stop offset="0" stop-color="#F08A78"/><stop offset="0.35" stop-color="#F39A3C"/><stop offset="0.7" stop-color="#F7C94A"/><stop offset="1" stop-color="#FBE88A"/></linearGradient><linearGradient id="t2b" x1="0" y1="0" x2="1" y2="0"><stop offset="0" stop-color="#E9688C"/><stop offset="0.35" stop-color="#F0A0A8"/><stop offset="0.7" stop-color="#F7DDA0"/><stop offset="1" stop-color="#FBEFC0"/></linearGradient></defs><rect width="51" height="32.5" fill="#050403"/><g font-family="Liberation Sans, Arial, sans-serif" font-weight="bold"><text transform="translate(2.6 22.6) rotate(-21)" font-size="10" fill="url(#t2a)" stroke="url(#t2a)" stroke-width="0.6" letter-spacing="0.5">FUERZA</text><text transform="translate(12 31.6) rotate(-21)" fill="url(#t2b)" stroke="url(#t2b)" stroke-width="0.6" font-size="8"><tspan font-size="13">B</tspan><tspan>RUTA</tspan></text></g></svg></div><b>Fuerza Bruta: Look Up</b><span class="pl">Winter Garden Theatre</span><span class="dt">Wednesday 9, 8:00 PM</span></div>
<div class="ev" style="top:127.9px"><div class="th"><svg viewBox="0 0 51 32.5"><defs><filter id="t3f"><feGaussianBlur stdDeviation="0.45"/></filter></defs><rect width="51" height="32.5" fill="#E2E2E1"/><g filter="url(#t3f)"><path d="M11.6 32.5V17Q12.4 14 15 13.6L19.6 14Q22.4 15 22.6 19V32.5Z" fill="#1E2421"/><path d="M33 15L37.6 14.4Q40.6 16 41 21V32.5H32Z" fill="#1C1F28"/><path d="M0.3 32.5V20Q0.8 15.6 5 15L10.4 14.8Q15 15.6 15.8 20.6L16.4 32.5Z" fill="#B4B6B8"/><path d="M3.4 16.4Q7.6 19 11.8 16.2L11 14.6H4.2Z" fill="#8F9396"/><ellipse cx="9" cy="21.4" rx="3.4" ry="3" fill="#5C646E"/><ellipse cx="9" cy="21.4" rx="1.7" ry="1.5" fill="#C4C7C9"/><rect x="6.4" y="25.4" width="5.4" height="0.9" fill="#6C727A"/><path d="M36.4 32.5V21Q37.4 16.6 41 16.2L47.6 15.8Q50.6 17 51 21V32.5Z" fill="#4FA7DF"/><path d="M38 27Q43 24.6 49.6 27.6L49.6 31Q43 28.6 38 31Z" fill="#C9987A"/><ellipse cx="41.6" cy="25" rx="1.4" ry="2.4" fill="#C8A24A"/><path d="M16.6 32.5V21Q17.4 15.6 22 14.8L30 14.8Q35.8 15.8 36.4 21L37.2 32.5Z" fill="#48618C"/><path d="M25.6 16H27.2V32.5H25.6Z" fill="#2C3C5C"/><path d="M21 17L23.4 15L26 18ZM29 15L31.6 17L27 18Z" fill="#34486C"/><ellipse cx="6.6" cy="10.4" rx="3.5" ry="4.4" fill="#B98A6E"/><path d="M2.6 10.6Q2 5 6.6 5.2Q11.4 5 10.6 10.6Q9.8 7.6 6.6 7.8Q3.6 7.6 2.6 10.600000000000001Z" fill="#4A3020"/><path d="M3.6 12.4Q6.6 16.4 9.6 12.4Q9.4 15 6.6 15.2Q3.8 15 3.6 12.4Z" fill="#6A4A34"/><ellipse cx="15.8" cy="10.4" rx="2.9" ry="3.9" fill="#B08266"/><path d="M12.6 10.2Q12.2 5.6 15.8 5.800000000000001Q19.4 5.6 19 10.2Q18.200000000000003 7.6 15.8 7.8Q13.4 7.6 12.6 10.2Z" fill="#1A1410"/><ellipse cx="23.8" cy="9" rx="3.7" ry="5.2" fill="#C2947A"/><path d="M19.8 8.6Q19 2.6 23.8 2.8Q28.6 2.6 27.8 8.6Q27 5.4 23.8 5.6Q20.6 5.4 19.8 8.6Z" fill="#1C1512"/><path d="M21.8 12.6Q23.8 14.4 25.8 12.6L25.8 15.4H21.8Z" fill="#B78A6C"/><ellipse cx="32.2" cy="10.8" rx="3" ry="4.2" fill="#B98C70"/><path d="M28.6 15Q27.6 6.4 32.2 6.4Q36.8 6.4 35.8 15Q35.2 9.2 32.2 9Q29.2 9.2 28.6 15Z" fill="#7A5232"/><path d="M30 12.8Q32.2 15.6 34.4 12.8Q34.2 15 32.2 15.2Q30.2 15 30 12.8Z" fill="#7A5A40"/><ellipse cx="43.2" cy="11" rx="4" ry="4.8" fill="#BD9074"/><path d="M38 9.4Q37.6 3.8 43.2 4Q49 3.8 48.4 9L49.6 10.4L47.6 10Q43 8.4 38.6 10.4Z" fill="#15161A"/><path d="M47.4 10Q48.4 13 47 15.6L46.4 11Z" fill="#6A4A30"/><path d="M39.6 12.4Q43.2 18 46.8 12.4Q46.6 16 43.2 16.6Q39.8 16 39.6 12.4Z" fill="#5A3A26"/></g><rect x="0.35" y="0.35" width="50.3" height="31.8" fill="none" stroke="#6C6C6C" stroke-width="0.8"/></svg></div><b>Maroon 5</b><span class="pl">Farmers Bank Arena</span><span class="dt">Saturday 12, 7:00 PM</span></div>
<div class="ev" style="top:170.9px"><div class="th"><svg viewBox="0 0 51 32.5"><defs><filter id="t4f"><feGaussianBlur stdDeviation="0.55"/></filter></defs><rect width="51" height="32.5" fill="#B9CCD6"/><g filter="url(#t4f)"><rect x="-1" y="-1" width="53" height="13" fill="#DDEBF2"/><rect x="0" y="3.4" width="9" height="2.6" fill="#F2CB3C"/><rect x="1" y="6" width="8" height="2" fill="#E0553C"/><rect x="0" y="8.2" width="10" height="1.8" fill="#F4AE3A"/><path d="M15 12Q20 1 26 12" fill="none" stroke="#FFFFFF" stroke-width="1.4"/><path d="M17 12Q20.6 4.6 24 12" fill="none" stroke="#6CC8D8" stroke-width="0.9"/><rect x="12" y="4" width="1.4" height="8" fill="#E87A92"/><rect x="27" y="5" width="6" height="2.6" fill="#8FD0EA"/><rect x="34" y="3.4" width="6.6" height="3" fill="#F07AB0"/><rect x="41" y="2" width="1.6" height="11" fill="#D2503C"/><rect x="43" y="4.4" width="8" height="2.6" fill="#F4C23C"/><rect x="44" y="7" width="7" height="2.6" fill="#E8683C"/><rect x="-1" y="11" width="53" height="4" fill="#8FB47A"/><rect x="10" y="10.4" width="8" height="3.6" fill="#5C9468"/><rect x="26" y="10.4" width="9" height="3.2" fill="#6CA4B2"/><rect x="36" y="9.6" width="5" height="3.6" fill="#B08AD0"/><path d="M-1 16Q12 11.5 26 14.6Q36 12.6 52 15V21H-1Z" fill="#EDA0D4"/><path d="M3 15.6Q14 12.6 25 15.6L31 18.4H1Z" fill="#F8C6E8"/><rect x="30" y="14.4" width="7" height="4.4" fill="#93B8E2"/><rect x="38" y="15" width="5.4" height="4.4" fill="#F4D05A"/><rect x="44" y="14" width="7" height="5.4" fill="#E488B0"/><rect x="-1" y="20.6" width="53" height="13" fill="#8A948C"/><rect x="0" y="21" width="8" height="3.6" fill="#D678AE"/><rect x="9" y="21" width="7" height="3.6" fill="#9CB4A2"/><rect x="17" y="21" width="8" height="3.2" fill="#D6E0E6"/><rect x="25" y="20.6" width="8" height="4.4" fill="#86A466"/><rect x="34" y="20.4" width="7" height="4.4" fill="#E8B44A"/><rect x="42" y="21" width="9" height="3.6" fill="#6E967A"/><rect x="0" y="25" width="6" height="3.6" fill="#EC94C6"/><rect x="6" y="25.4" width="6" height="3.4" fill="#5A6A76"/><rect x="13" y="25" width="6" height="3.6" fill="#B8CCDC"/><rect x="19" y="25.2" width="7" height="4" fill="#6C8A5C"/><rect x="27" y="25.4" width="7" height="3.6" fill="#DCE6EC"/><rect x="34" y="25.2" width="5" height="3.6" fill="#8A5A4A"/><rect x="40" y="25" width="6" height="4.4" fill="#EE84B8"/><rect x="46" y="25" width="5" height="4.4" fill="#74A082"/><rect x="0" y="29" width="7" height="4" fill="#7A5A8A"/><rect x="8" y="29" width="8" height="4" fill="#C0CCD2"/><rect x="16" y="29.4" width="8" height="4" fill="#5C7C5C"/><rect x="25" y="29" width="8" height="4" fill="#A4B2BC"/><rect x="33" y="29.2" width="8" height="4" fill="#D0705C"/><rect x="42" y="29.4" width="9" height="4" fill="#E4A0C8"/></g><rect x="0.4" y="0.4" width="50.2" height="31.7" fill="none" stroke="#2C3A30" stroke-width="0.8"/></svg></div><b>Riverhead Country Fair</b><span class="pl">Garden Center</span><span class="dt">Sunday 13, 1:00 PM</span></div>
<div class="ev" style="top:213.2px"><div class="th"><svg viewBox="0 0 51 32.5"><defs><linearGradient id="t5s" x1="0" y1="0" x2="0.25" y2="1"><stop offset="0" stop-color="#3F88CE"/><stop offset="0.55" stop-color="#6AA8DA"/><stop offset="1" stop-color="#9CC6E4"/></linearGradient><linearGradient id="t5a" x1="0" y1="0" x2="0" y2="1"><stop offset="0" stop-color="#D4201A"/><stop offset="0.3" stop-color="#F0501A"/><stop offset="0.42" stop-color="#FAD428"/><stop offset="0.56" stop-color="#F6B420"/><stop offset="0.62" stop-color="#1A0E08"/><stop offset="1" stop-color="#060404"/></linearGradient><clipPath id="t5c"><path d="M13.8 2.8C19.6 2.6 23.4 6.4 23 11C22.4 15.4 17.6 18.6 15.2 20.8L13 20.8C10 18.4 5 15 4.8 10.6C4.6 6.2 8.4 2.8 13.8 2.8Z"/></clipPath><filter id="t5f"><feGaussianBlur stdDeviation="0.3"/></filter></defs><rect width="51" height="32.5" fill="url(#t5s)"/><g filter="url(#t5f)"><g clip-path="url(#t5c)"><rect x="3" y="1" width="22" height="22" fill="#0E0A0A"/><path d="M3 1H25V9L14 14L3 15Z" fill="#D8241A"/><path d="M4 16L11 5L12.6 11L16 4L17.4 10L21 5L22 11L12 18Z" fill="#17100E"/><path d="M9.4 13L11.6 8M13 14L14.8 7.6M16.6 11L18.4 7M19.6 10L20.8 7.4" stroke="#F4F0F0" stroke-width="0.8" fill="none"/><path d="M10 18.4L23.6 10.6L23.4 13.6L12 20Z" fill="#F6A61E"/><path d="M11 20.2L23.4 13L23 15L13 21Z" fill="#E8501A"/></g><rect x="13.2" y="22.4" width="1.8" height="1.5" fill="#2A2420"/><path d="M37 8.4C43.4 8.2 47 12.6 46.4 17C45.8 21.4 41.4 23.8 39 26.2L36.6 26.2C33.4 23.8 28.4 21.4 28 16.6C27.6 12 31.4 8.6 37 8.400000000000002Z" fill="url(#t5a)"/><path d="M30 16.6Q31.4 15 32.6 16.8Q34 15 35.4 17Q37 15.4 38.6 17.2Q40.4 15.600000000000001 42 17.2Q43.4 15.8 45 17.2L46 19L29 19Z" fill="#0C0806"/><rect x="36.9" y="28" width="1.9" height="1.7" fill="#3A3A42"/></g><rect x="0.4" y="0.4" width="50.2" height="31.7" fill="none" stroke="#1E3350" stroke-width="0.8"/><rect x="0" y="31.4" width="51" height="1.1" fill="#16283F"/></svg></div><b>The 30th Annual Festival of Ballooning</b><span class="pl">Meadow Park</span><span class="dt">Sunday 13, 3:00 PM</span></div>
</div>
<div class="panel nw" style="left:470px;top:289px;width:276px;height:199.5px">
<div class="ptitle" style="top:8.3px;left:-1.6px">Local News</div>
<h3 style="top:28px">Metro Stations from Vienna to W. Falls Church Closed</h3>
<p style="top:44.7px">Taking the Metro to get around this weekend? Here's what to expect. Riders on the Red and<br>Orange lines will be impacted by weekend track work.</p>
<h3 style="top:67px">Lost Dog Coffee faces legal threat</h3>
<p style="top:83.7px">Garth Janssen, owner of Lost Dog Coffee, was surprised to receive a letter from a Virginia law<br>firm demanding that he cease and desist using the name that has adorned his business for over<br>16 years.</p>
<h3 style="top:111.5px">Police Hit 100 Tickets in Pedestrian Enforcement</h3>
<p style="top:127.7px">Fairfax County police have handed out 100 tickets to pedestrians and motorists in a busy<br>intersection along Gallows Road in Merrifield.</p>
<h3 style="top:150.5px">Fire Chief Selects William A. Garrett for Deputy Chief</h3>
<p style="top:166.7px">Fire Chief Ronald L. Mastin has selected Battalion Chief William A. Garrett for promotion to<br>deputy chief.</p>
</div>
<div class="panel" style="left:470px;top:496px;width:276px;height:81.5px">
<div class="wx" style="left:7px;top:9px"><b>Mon</b><svg viewBox="0 0 36 36"><defs><radialGradient id="wrB" cx="0.28" cy="0.28" r="0.95"><stop offset="0" stop-color="#8FC6F2"/><stop offset="0.3" stop-color="#3F86D2"/><stop offset="0.65" stop-color="#1D579F"/><stop offset="1" stop-color="#0E3365"/></radialGradient><radialGradient id="wrS" cx="0.45" cy="0.42" r="0.6"><stop offset="0" stop-color="#FFD83A"/><stop offset="0.75" stop-color="#FDC21E"/><stop offset="1" stop-color="#EE9A0C"/></radialGradient><linearGradient id="wrC" x1="0" y1="0" x2="0" y2="1"><stop offset="0" stop-color="#FFFFFF"/><stop offset="0.5" stop-color="#E4E6EA"/><stop offset="0.8" stop-color="#8F969E"/><stop offset="1" stop-color="#4C535C"/></linearGradient><filter id="wrF"><feGaussianBlur stdDeviation="0.35"/></filter></defs><rect width="36" height="36" fill="url(#wrB)"/><g stroke="#BCD4F0" stroke-width="0.9" opacity="0.5" stroke-linecap="round"><path d="M24 20L19 35M27 20L22 35M30 20L25 35M33 20L28 35M36 20L31 35M38 23L34 35M21.5 22L18 32"/></g><circle cx="10.6" cy="10.8" r="8.3" fill="url(#wrS)"/><g filter="url(#wrF)"><path d="M15 16.2Q14.6 13 18.2 12Q19 8.6 22.4 8.4Q23.4 3.2 28.4 1.6Q32.6 0.2 37 2V19.2H19Q15.4 19.2 15 16.2Z" fill="url(#wrC)"/></g></svg><span>84° 68°</span></div>
<div class="wx" style="left:105.4px;top:9px"><b>Tue</b><svg viewBox="0 0 36 36"><defs><linearGradient id="wcB" x1="0" y1="0" x2="0" y2="1"><stop offset="0" stop-color="#1A74DE"/><stop offset="0.45" stop-color="#3F97EC"/><stop offset="1" stop-color="#6DBBF6"/></linearGradient><radialGradient id="wcG" cx="0.5" cy="0.5" r="0.5"><stop offset="0" stop-color="#EAF6FF" stop-opacity="0.95"/><stop offset="1" stop-color="#8CC8F8" stop-opacity="0"/></radialGradient><linearGradient id="wcC" x1="0" y1="0" x2="0" y2="1"><stop offset="0" stop-color="#FFFFFF"/><stop offset="0.6" stop-color="#F1F2F4"/><stop offset="1" stop-color="#A9AEB6"/></linearGradient><filter id="wcF"><feGaussianBlur stdDeviation="0.35"/></filter></defs><rect width="36" height="36" fill="url(#wcB)"/><circle cx="17.4" cy="13.4" r="13" fill="url(#wcG)"/><ellipse cx="17.3" cy="13.4" rx="6.6" ry="5" fill="#FDBA1C"/><ellipse cx="17.3" cy="12.6" rx="5.6" ry="3.6" fill="#FFD23A"/><g filter="url(#wcF)"><path d="M-1 10.4Q2.4 7.4 6 9.6Q9.6 10 10.6 13.6Q13.6 14.6 13.4 17.6Q14.4 20.6 11.4 22.6Q8 25.4 3 24.4L-1 24.6Z" fill="url(#wcC)"/><path d="M11.6 20.4Q11.4 17 14.6 16.4Q16.2 13.4 19.6 14.4Q22 11.4 25.6 12.8Q28.4 10.2 31.6 12.2Q34.6 11.2 37 13.4V28.4H16Q11.6 27.4 11.8 23.4Q11 22 11.6 20.4Z" fill="url(#wcC)"/><path d="M11.8 20.2Q13.4 22.6 12 24.6" fill="none" stroke="#8E949C" stroke-width="0.6"/></g></svg><span>82° 70°</span></div>
<div class="wx" style="left:203.6px;top:9px"><b>Wed</b><svg viewBox="0 0 36 36"><defs><radialGradient id="wrB" cx="0.28" cy="0.28" r="0.95"><stop offset="0" stop-color="#8FC6F2"/><stop offset="0.3" stop-color="#3F86D2"/><stop offset="0.65" stop-color="#1D579F"/><stop offset="1" stop-color="#0E3365"/></radialGradient><radialGradient id="wrS" cx="0.45" cy="0.42" r="0.6"><stop offset="0" stop-color="#FFD83A"/><stop offset="0.75" stop-color="#FDC21E"/><stop offset="1" stop-color="#EE9A0C"/></radialGradient><linearGradient id="wrC" x1="0" y1="0" x2="0" y2="1"><stop offset="0" stop-color="#FFFFFF"/><stop offset="0.5" stop-color="#E4E6EA"/><stop offset="0.8" stop-color="#8F969E"/><stop offset="1" stop-color="#4C535C"/></linearGradient><filter id="wrF"><feGaussianBlur stdDeviation="0.35"/></filter></defs><rect width="36" height="36" fill="url(#wrB)"/><g stroke="#BCD4F0" stroke-width="0.9" opacity="0.5" stroke-linecap="round"><path d="M24 20L19 35M27 20L22 35M30 20L25 35M33 20L28 35M36 20L31 35M38 23L34 35M21.5 22L18 32"/></g><circle cx="10.6" cy="10.8" r="8.3" fill="url(#wrS)"/><g filter="url(#wrF)"><path d="M15 16.2Q14.6 13 18.2 12Q19 8.6 22.4 8.4Q23.4 3.2 28.4 1.6Q32.6 0.2 37 2V19.2H19Q15.4 19.2 15 16.2Z" fill="url(#wrC)"/></g></svg><span>82° 70°</span></div>
</div>
<svg class="abs" style="left:774.6px;top:10.3px" width="180" height="180" viewBox="-90 -90 180 180">
<defs>
<linearGradient id="rimO" x1="0.18" y1="0.05" x2="0.82" y2="0.95"><stop offset="0" stop-color="#E6EEF3"/><stop offset="0.3" stop-color="#C9D8E2"/><stop offset="0.55" stop-color="#9DB4C3"/><stop offset="0.8" stop-color="#7592A5"/><stop offset="1" stop-color="#587A90"/></linearGradient>
<linearGradient id="rimI" x1="0.18" y1="0.05" x2="0.82" y2="0.95"><stop offset="0" stop-color="#42687F"/><stop offset="0.4" stop-color="#6D8EA2"/><stop offset="0.75" stop-color="#A9C1D0"/><stop offset="1" stop-color="#C9DCE8"/></linearGradient>
<radialGradient id="face" cx="0.57" cy="0.6" r="0.66"><stop offset="0" stop-color="#FBFBFC"/><stop offset="0.72" stop-color="#F3F3F5"/><stop offset="0.86" stop-color="#DFE2E6"/><stop offset="1" stop-color="#AEB7C0"/></radialGradient>
<radialGradient id="hub" cx="0.4" cy="0.3" r="0.8"><stop offset="0" stop-color="#8C8C8C"/><stop offset="0.5" stop-color="#3A3A3A"/><stop offset="1" stop-color="#0C0C0C"/></radialGradient>
<linearGradient id="hh" x1="0" y1="1" x2="0" y2="0"><stop offset="0" stop-color="#000"/><stop offset="0.55" stop-color="#111"/><stop offset="1" stop-color="#8A8A8A"/></linearGradient>
</defs>
<circle r="84.8" fill="#6F8FA3"/>
<circle r="84" fill="url(#rimO)"/>
<circle r="77.8" fill="url(#rimI)"/>
<circle r="73.3" fill="#8FA8B8"/><circle r="72.8" fill="url(#face)"/>
<line x1="0.00" y1="-61.60" x2="0.00" y2="-68.40" stroke="#0d0d0d" stroke-width="2.9"/><line x1="6.79" y1="-64.64" x2="7.15" y2="-68.03" stroke="#0d0d0d" stroke-width="1.35"/><line x1="13.51" y1="-63.58" x2="14.22" y2="-66.91" stroke="#0d0d0d" stroke-width="1.35"/><line x1="20.09" y1="-61.82" x2="21.14" y2="-65.05" stroke="#0d0d0d" stroke-width="1.35"/><line x1="26.44" y1="-59.38" x2="27.82" y2="-62.49" stroke="#0d0d0d" stroke-width="1.35"/><line x1="30.80" y1="-53.35" x2="34.20" y2="-59.24" stroke="#0d0d0d" stroke-width="2.9"/><line x1="38.21" y1="-52.59" x2="40.20" y2="-55.34" stroke="#0d0d0d" stroke-width="1.35"/><line x1="43.49" y1="-48.30" x2="45.77" y2="-50.83" stroke="#0d0d0d" stroke-width="1.35"/><line x1="48.30" y1="-43.49" x2="50.83" y2="-45.77" stroke="#0d0d0d" stroke-width="1.35"/><line x1="52.59" y1="-38.21" x2="55.34" y2="-40.20" stroke="#0d0d0d" stroke-width="1.35"/><line x1="53.35" y1="-30.80" x2="59.24" y2="-34.20" stroke="#0d0d0d" stroke-width="2.9"/><line x1="59.38" y1="-26.44" x2="62.49" y2="-27.82" stroke="#0d0d0d" stroke-width="1.35"/><line x1="61.82" y1="-20.09" x2="65.05" y2="-21.14" stroke="#0d0d0d" stroke-width="1.35"/><line x1="63.58" y1="-13.51" x2="66.91" y2="-14.22" stroke="#0d0d0d" stroke-width="1.35"/><line x1="64.64" y1="-6.79" x2="68.03" y2="-7.15" stroke="#0d0d0d" stroke-width="1.35"/><line x1="61.60" y1="-0.00" x2="68.40" y2="-0.00" stroke="#0d0d0d" stroke-width="2.9"/><line x1="64.64" y1="6.79" x2="68.03" y2="7.15" stroke="#0d0d0d" stroke-width="1.35"/><line x1="63.58" y1="13.51" x2="66.91" y2="14.22" stroke="#0d0d0d" stroke-width="1.35"/><line x1="61.82" y1="20.09" x2="65.05" y2="21.14" stroke="#0d0d0d" stroke-width="1.35"/><line x1="59.38" y1="26.44" x2="62.49" y2="27.82" stroke="#0d0d0d" stroke-width="1.35"/><line x1="53.35" y1="30.80" x2="59.24" y2="34.20" stroke="#0d0d0d" stroke-width="2.9"/><line x1="52.59" y1="38.21" x2="55.34" y2="40.20" stroke="#0d0d0d" stroke-width="1.35"/><line x1="48.30" y1="43.49" x2="50.83" y2="45.77" stroke="#0d0d0d" stroke-width="1.35"/><line x1="43.49" y1="48.30" x2="45.77" y2="50.83" stroke="#0d0d0d" stroke-width="1.35"/><line x1="38.21" y1="52.59" x2="40.20" y2="55.34" stroke="#0d0d0d" stroke-width="1.35"/><line x1="30.80" y1="53.35" x2="34.20" y2="59.24" stroke="#0d0d0d" stroke-width="2.9"/><line x1="26.44" y1="59.38" x2="27.82" y2="62.49" stroke="#0d0d0d" stroke-width="1.35"/><line x1="20.09" y1="61.82" x2="21.14" y2="65.05" stroke="#0d0d0d" stroke-width="1.35"/><line x1="13.51" y1="63.58" x2="14.22" y2="66.91" stroke="#0d0d0d" stroke-width="1.35"/><line x1="6.79" y1="64.64" x2="7.15" y2="68.03" stroke="#0d0d0d" stroke-width="1.35"/><line x1="0.00" y1="61.60" x2="0.00" y2="68.40" stroke="#0d0d0d" stroke-width="2.9"/><line x1="-6.79" y1="64.64" x2="-7.15" y2="68.03" stroke="#0d0d0d" stroke-width="1.35"/><line x1="-13.51" y1="63.58" x2="-14.22" y2="66.91" stroke="#0d0d0d" stroke-width="1.35"/><line x1="-20.09" y1="61.82" x2="-21.14" y2="65.05" stroke="#0d0d0d" stroke-width="1.35"/><line x1="-26.44" y1="59.38" x2="-27.82" y2="62.49" stroke="#0d0d0d" stroke-width="1.35"/><line x1="-30.80" y1="53.35" x2="-34.20" y2="59.24" stroke="#0d0d0d" stroke-width="2.9"/><line x1="-38.21" y1="52.59" x2="-40.20" y2="55.34" stroke="#0d0d0d" stroke-width="1.35"/><line x1="-43.49" y1="48.30" x2="-45.77" y2="50.83" stroke="#0d0d0d" stroke-width="1.35"/><line x1="-48.30" y1="43.49" x2="-50.83" y2="45.77" stroke="#0d0d0d" stroke-width="1.35"/><line x1="-52.59" y1="38.21" x2="-55.34" y2="40.20" stroke="#0d0d0d" stroke-width="1.35"/><line x1="-53.35" y1="30.80" x2="-59.24" y2="34.20" stroke="#0d0d0d" stroke-width="2.9"/><line x1="-59.38" y1="26.44" x2="-62.49" y2="27.82" stroke="#0d0d0d" stroke-width="1.35"/><line x1="-61.82" y1="20.09" x2="-65.05" y2="21.14" stroke="#0d0d0d" stroke-width="1.35"/><line x1="-63.58" y1="13.51" x2="-66.91" y2="14.22" stroke="#0d0d0d" stroke-width="1.35"/><line x1="-64.64" y1="6.79" x2="-68.03" y2="7.15" stroke="#0d0d0d" stroke-width="1.35"/><line x1="-61.60" y1="0.00" x2="-68.40" y2="0.00" stroke="#0d0d0d" stroke-width="2.9"/><line x1="-64.64" y1="-6.79" x2="-68.03" y2="-7.15" stroke="#0d0d0d" stroke-width="1.35"/><line x1="-63.58" y1="-13.51" x2="-66.91" y2="-14.22" stroke="#0d0d0d" stroke-width="1.35"/><line x1="-61.82" y1="-20.09" x2="-65.05" y2="-21.14" stroke="#0d0d0d" stroke-width="1.35"/><line x1="-59.38" y1="-26.44" x2="-62.49" y2="-27.82" stroke="#0d0d0d" stroke-width="1.35"/><line x1="-53.35" y1="-30.80" x2="-59.24" y2="-34.20" stroke="#0d0d0d" stroke-width="2.9"/><line x1="-52.59" y1="-38.21" x2="-55.34" y2="-40.20" stroke="#0d0d0d" stroke-width="1.35"/><line x1="-48.30" y1="-43.49" x2="-50.83" y2="-45.77" stroke="#0d0d0d" stroke-width="1.35"/><line x1="-43.49" y1="-48.30" x2="-45.77" y2="-50.83" stroke="#0d0d0d" stroke-width="1.35"/><line x1="-38.21" y1="-52.59" x2="-40.20" y2="-55.34" stroke="#0d0d0d" stroke-width="1.35"/><line x1="-30.80" y1="-53.35" x2="-34.20" y2="-59.24" stroke="#0d0d0d" stroke-width="2.9"/><line x1="-26.44" y1="-59.38" x2="-27.82" y2="-62.49" stroke="#0d0d0d" stroke-width="1.35"/><line x1="-20.09" y1="-61.82" x2="-21.14" y2="-65.05" stroke="#0d0d0d" stroke-width="1.35"/><line x1="-13.51" y1="-63.58" x2="-14.22" y2="-66.91" stroke="#0d0d0d" stroke-width="1.35"/><line x1="-6.79" y1="-64.64" x2="-7.15" y2="-68.03" stroke="#0d0d0d" stroke-width="1.35"/>
<g font-family="Liberation Sans, Arial, sans-serif" font-size="18.3" fill="#111" text-anchor="middle">
<text x="26.2" y="-38.9">1</text><text x="45.5" y="-19.7">2</text><text x="55.0" y="6.6">3</text><text x="45.5" y="32.8">4</text><text x="26.2" y="52.1">5</text><text x="0.0" y="59.1">6</text><text x="-26.3" y="52.1">7</text><text x="-45.5" y="32.9">8</text><text x="-55.0" y="6.6">9</text><text x="-45.3" y="-19.2" letter-spacing="-1.3">10</text><text x="-26.4" y="-38.0" letter-spacing="-1.3">11</text><text x="-0.7" y="-44.9" letter-spacing="-1.3">12</text>
</g>
<polygon transform="rotate(38.6)" points="-1.9,0 1.9,0 0.85,-44.8 -0.85,-44.8" fill="url(#hh)"/>
<polygon transform="rotate(-38.6)" points="-1.7,0 1.7,0 0.75,-61 -0.75,-61" fill="url(#hh)"/>
<polygon transform="rotate(196)" points="-0.85,0 0.85,0 0.55,-67.5 -0.55,-67.5" fill="#D3263F"/>
<circle r="6.5" fill="url(#hub)"/>
</svg>
<div class="panel tr" style="left:753.5px;top:196px;width:221px;height:410px">
<div class="ptitle" style="top:8px;font-size:10.7px">WMATA Train Schedule:</div>
<div class="metro"><svg width="35" height="44" viewBox="0 0 35 44"><text x="17.5" y="32" text-anchor="middle" font-family="Liberation Sans, Arial, sans-serif" font-weight="bold" font-size="40" fill="#fff" stroke="#fff" stroke-width="1.5" textLength="27" lengthAdjust="spacingAndGlyphs">M</text><text x="17.5" y="41.2" text-anchor="middle" font-family="Liberation Sans, Arial, sans-serif" font-weight="bold" font-size="9.8" fill="#fff" stroke="#fff" stroke-width="0.3" textLength="30" lengthAdjust="spacingAndGlyphs">metro</text></svg></div>
<div class="st" style="top:82.5px">DUNN LORING-MERRIFIELD</div>
<div class="hd" style="top:100px"><b class="c1">Line</b><b class="c2">Cards</b><b class="c3">Destination</b><b class="c4">Minutes</b></div>
<div class="rw ln" style="top:121.5px"><i class="sq-o"></i><span class="c2">6</span><span class="c3">New Carrolton</span><span class="c4">6</span></div>
<div class="rw ln" style="top:136.1px"><i class="sq-o"></i><span class="c2">6</span><span class="c3">New Carrolton</span><span class="c4">18</span></div>
<div class="rw" style="top:150.7px"><i class="sq-o"></i><span class="c2">6</span><span class="c3">New Carrolton</span><span class="c4">21</span></div>
<div class="hd" style="top:177.5px"><b class="c1">Line</b><b class="c2">Cards</b><b class="c3">Destination</b><b class="c4">Minutes</b></div>
<div class="rw ln" style="top:199.0px"><i class="sq-b"></i><span class="c2">6</span><span class="c3">Vienna</span><span class="c4">6</span></div>
<div class="rw ln" style="top:213.6px"><i class="sq-y"></i><span class="c2">6</span><span class="c3">Vienna</span><span class="c4">11</span></div>
<div class="rw ln" style="top:228.2px"><i class="sq-y"></i><span class="c2">8</span><span class="c3">Vienna</span><span class="c4">19</span></div>
<div class="rw" style="top:242.8px"><i class="sq-y"></i><span class="c2">6</span><span class="c3">Vienna</span><span class="c4">25</span></div>
<div class="st" style="top:280px">KING ST-OLD TOWN</div>
<div class="hd" style="top:297.5px"><b class="c1">Line</b><b class="c2">Cards</b><b class="c3">Destination</b><b class="c4">Minutes</b></div>
<div class="rw ln" style="top:319.0px"><i class="sq-o"></i><span class="c2">6</span><span class="c3">Greenbelt</span><span class="c4">Boarding</span></div>
<div class="rw ln" style="top:333.6px"><i class="sq-o"></i><span class="c2">6</span><span class="c3">Greenbelt</span><span class="c4">6</span></div>
<div class="rw" style="top:348.2px"><i class="sq-o"></i><span class="c2">6</span><span class="c3">Greenbelt</span><span class="c4">12</span></div>
</div>
</div>
</body></html>
